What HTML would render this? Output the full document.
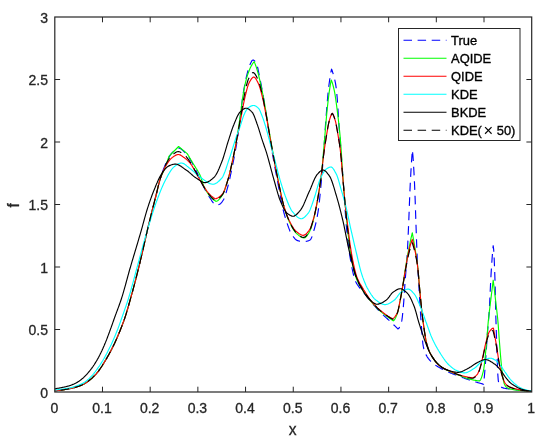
<!DOCTYPE html>
<html lang="en"><head><meta charset="utf-8"><title>Density estimates</title>
<style>
html,body{margin:0;padding:0;background:#fff;}
body{width:550px;height:448px;overflow:hidden;font-family:"Liberation Sans",Arial,Helvetica,sans-serif;}
svg{display:block}
.t{stroke:#262626;stroke-width:0.3px}
.lg{fill:#000;stroke:#000;stroke-width:0.35px}
</style></head><body>
<svg width="550" height="448" viewBox="0 0 550 448" font-family="'Liberation Sans', Arial, Helvetica, sans-serif" font-size="14" fill="#262626">
<defs><clipPath id="cp"><rect x="54.8" y="17.0" width="476.90000000000003" height="375.0"/></clipPath></defs>
<rect width="550" height="448" fill="#fff"/>
<rect x="54.8" y="17.0" width="476.90000000000003" height="375.0" fill="#fff" stroke="none"/>
<g clip-path="url(#cp)" fill="none" stroke-linejoin="round"><path d="M54.5 390.8 L55.0 390.8 L55.5 390.7 L56.0 390.7 L56.5 390.6 L57.0 390.6 L57.5 390.5 L58.0 390.5 L58.5 390.4 L59.0 390.3 L59.5 390.3 L60.0 390.2 L60.5 390.2 L61.0 390.1 L61.5 390.0 L62.0 390.0 L62.5 389.9 L63.0 389.8 L63.5 389.8 L64.0 389.7 L64.5 389.6 L65.0 389.5 L65.5 389.4 L66.0 389.4 L66.5 389.3 L67.0 389.2 L67.5 389.1 L68.0 389.0 L68.5 388.9 L69.0 388.8 L69.5 388.7 L70.0 388.6 L70.5 388.5 L71.0 388.4 L71.5 388.3 L72.0 388.2 L72.5 388.1 L73.0 387.9 L73.5 387.8 L74.0 387.7 L74.5 387.6 L75.0 387.4 L75.5 387.3 L76.0 387.1 L76.5 387.0 L77.0 386.8 L77.5 386.7 L78.0 386.5 L78.5 386.4 L79.0 386.2 L79.5 386.0 L80.0 385.8 L80.5 385.6 L81.0 385.4 L81.5 385.2 L82.0 385.0 L82.5 384.8 L83.0 384.5 L83.5 384.3 L84.0 384.0 L84.5 383.8 L85.0 383.5 L85.5 383.1 L86.0 382.8 L86.5 382.5 L87.0 382.1 L87.5 381.8 L88.0 381.4 L88.5 381.0 L89.0 380.6 L89.5 380.2 L90.0 379.8 L90.5 379.4 L91.0 379.0 L91.5 378.6 L92.0 378.1 L92.5 377.7 L93.0 377.2 L93.5 376.7 L94.0 376.2 L94.5 375.7 L95.0 375.2 L95.5 374.6 L96.0 374.1 L96.5 373.5 L97.0 372.9 L97.5 372.3 L98.0 371.7 L98.5 371.1 L99.0 370.4 L99.5 369.7 L100.0 369.0 L100.5 368.3 L101.0 367.5 L101.5 366.7 L102.0 366.0 L102.5 365.2 L103.0 364.4 L103.5 363.6 L104.0 362.8 L104.5 361.9 L105.0 361.1 L105.5 360.3 L106.0 359.5 L106.5 358.6 L107.0 357.8 L107.5 356.9 L108.0 356.0 L108.5 355.1 L109.0 354.2 L109.5 353.3 L110.0 352.4 L110.5 351.4 L111.0 350.5 L111.5 349.5 L112.0 348.6 L112.5 347.6 L113.0 346.6 L113.5 345.6 L114.0 344.5 L114.5 343.5 L115.0 342.4 L115.5 341.3 L116.0 340.2 L116.5 339.1 L117.0 338.0 L117.5 336.8 L118.0 335.6 L118.5 334.4 L119.0 333.2 L119.5 332.0 L120.0 330.8 L120.5 329.5 L121.0 328.2 L121.5 327.0 L122.0 325.7 L122.5 324.4 L123.0 323.0 L123.5 321.7 L124.0 320.3 L124.5 318.9 L125.0 317.4 L125.5 315.9 L126.0 314.3 L126.5 312.7 L127.0 311.0 L127.5 309.3 L128.0 307.6 L128.5 305.8 L129.0 304.0 L129.5 302.3 L130.0 300.5 L130.5 298.7 L131.0 297.0 L131.5 295.2 L132.0 293.4 L132.5 291.6 L133.0 289.7 L133.5 287.9 L134.0 286.0 L134.5 284.1 L135.0 282.2 L135.5 280.3 L136.0 278.4 L136.5 276.4 L137.0 274.4 L137.5 272.4 L138.0 270.4 L138.5 268.4 L139.0 266.4 L139.5 264.3 L140.0 262.3 L140.5 260.2 L141.0 258.1 L141.5 255.9 L142.0 253.8 L142.5 251.6 L143.0 249.5 L143.5 247.3 L144.0 245.1 L144.5 242.9 L145.0 240.7 L145.5 238.5 L146.0 236.2 L146.5 234.0 L147.0 231.8 L147.5 229.6 L148.0 227.5 L148.5 225.4 L149.0 223.4 L149.5 221.3 L150.0 219.3 L150.5 217.2 L151.0 215.2 L151.5 213.2 L152.0 211.2 L152.5 209.2 L153.0 207.2 L153.5 205.3 L154.0 203.3 L154.5 201.4 L155.0 199.4 L155.5 197.5 L156.0 195.5 L156.5 193.5 L157.0 191.4 L157.5 189.4 L158.0 187.3 L158.5 185.3 L159.0 183.3 L159.5 181.4 L160.0 179.7 L160.5 178.0 L161.0 176.5 L161.5 174.9 L162.0 173.4 L162.5 172.0 L163.0 170.5 L163.5 169.2 L164.0 167.9 L164.5 166.6 L165.0 165.4 L165.5 164.2 L166.0 163.1 L166.5 162.1 L167.0 161.1 L167.5 160.1 L168.0 159.1 L168.5 158.2 L169.0 157.3 L169.5 156.4 L170.0 155.6 L170.5 154.8 L171.0 154.1 L171.5 153.4 L172.0 152.8 L172.5 152.3 L173.0 151.8 L173.5 151.2 L174.0 150.7 L174.5 150.2 L175.0 149.7 L175.5 149.3 L176.0 148.9 L176.5 148.6 L177.0 148.3 L177.5 148.1 L178.0 148.0 L178.5 148.0 L179.0 148.1 L179.5 148.2 L180.0 148.4 L180.5 148.6 L181.0 148.9 L181.5 149.3 L182.0 149.7 L182.5 150.1 L183.0 150.5 L183.5 151.0 L184.0 151.5 L184.5 152.0 L185.0 152.5 L185.5 153.0 L186.0 153.5 L186.5 154.0 L187.0 154.6 L187.5 155.2 L188.0 155.9 L188.5 156.6 L189.0 157.4 L189.5 158.2 L190.0 159.0 L190.5 159.9 L191.0 160.7 L191.5 161.6 L192.0 162.6 L192.5 163.5 L193.0 164.4 L193.5 165.3 L194.0 166.3 L194.5 167.2 L195.0 168.1 L195.5 169.1 L196.0 170.2 L196.5 171.2 L197.0 172.3 L197.5 173.4 L198.0 174.5 L198.5 175.7 L199.0 176.8 L199.5 178.0 L200.0 179.1 L200.5 180.2 L201.0 181.3 L201.5 182.4 L202.0 183.5 L202.5 184.5 L203.0 185.5 L203.5 186.5 L204.0 187.5 L204.5 188.4 L205.0 189.4 L205.5 190.4 L206.0 191.3 L206.5 192.2 L207.0 193.1 L207.5 194.0 L208.0 194.8 L208.5 195.6 L209.0 196.4 L209.5 197.1 L210.0 197.9 L210.5 198.7 L211.0 199.5 L211.5 200.3 L212.0 201.1 L212.5 201.8 L213.0 202.5 L213.5 203.2 L214.0 203.8 L214.5 204.3 L215.0 204.8 L215.5 205.1 L216.0 205.3 L216.5 205.3 L217.0 205.3 L217.5 205.1 L218.0 205.0 L218.5 204.8 L219.0 204.5 L219.5 204.3 L220.0 204.0 L220.5 203.7 L221.0 203.2 L221.5 202.7 L222.0 202.0 L222.5 201.3 L223.0 200.5 L223.5 199.7 L224.0 198.7 L224.5 197.6 L225.0 196.2 L225.5 194.8 L226.0 193.1 L226.5 191.4 L227.0 189.6 L227.5 187.8 L228.0 186.0 L228.5 184.1 L229.0 182.0 L229.5 179.8 L230.0 177.6 L230.5 175.2 L231.0 172.8 L231.5 170.5 L232.0 168.1 L232.5 165.7 L233.0 163.2 L233.5 160.7 L234.0 158.1 L234.5 155.4 L235.0 152.8 L235.5 150.1 L236.0 147.4 L236.5 144.6 L237.0 141.6 L237.5 138.3 L238.0 134.8 L238.5 130.9 L239.0 126.9 L239.5 122.8 L240.0 118.7 L240.5 114.7 L241.0 110.6 L241.5 106.4 L242.0 102.3 L242.5 98.4 L243.0 94.8 L243.5 91.7 L244.0 88.8 L244.5 86.0 L245.0 83.4 L245.5 80.9 L246.0 78.6 L246.5 76.4 L247.0 74.3 L247.5 72.3 L248.0 70.4 L248.5 68.6 L249.0 67.0 L249.5 65.7 L250.0 64.6 L250.5 63.5 L251.0 62.4 L251.5 61.4 L252.0 60.7 L252.5 60.2 L253.0 60.0 L253.5 60.1 L254.0 60.4 L254.5 60.8 L255.0 61.4 L255.5 62.1 L256.0 62.8 L256.5 63.7 L257.0 65.0 L257.5 66.8 L258.0 69.0 L258.5 71.5 L259.0 74.0 L259.5 76.5 L260.0 78.9 L260.5 81.4 L261.0 83.9 L261.5 86.6 L262.0 89.3 L262.5 92.0 L263.0 94.8 L263.5 97.7 L264.0 100.6 L264.5 103.6 L265.0 106.7 L265.5 109.9 L266.0 113.1 L266.5 116.4 L267.0 119.6 L267.5 122.9 L268.0 126.0 L268.5 129.1 L269.0 132.1 L269.5 135.1 L270.0 138.2 L270.5 141.2 L271.0 144.4 L271.5 147.5 L272.0 150.7 L272.5 153.8 L273.0 156.8 L273.5 159.7 L274.0 162.5 L274.5 165.2 L275.0 167.9 L275.5 170.6 L276.0 173.2 L276.5 175.8 L277.0 178.4 L277.5 181.0 L278.0 183.7 L278.5 186.4 L279.0 189.2 L279.5 191.9 L280.0 194.7 L280.5 197.3 L281.0 200.0 L281.5 202.4 L282.0 204.8 L282.5 207.0 L283.0 209.1 L283.5 211.1 L284.0 213.0 L284.5 214.9 L285.0 216.6 L285.5 218.3 L286.0 220.0 L286.5 221.5 L287.0 223.0 L287.5 224.4 L288.0 225.9 L288.5 227.3 L289.0 228.6 L289.5 229.9 L290.0 231.2 L290.5 232.3 L291.0 233.3 L291.5 234.2 L292.0 235.0 L292.5 235.7 L293.0 236.4 L293.5 237.0 L294.0 237.6 L294.5 238.2 L295.0 238.8 L295.5 239.3 L296.0 239.7 L296.5 240.1 L297.0 240.4 L297.5 240.6 L298.0 240.8 L298.5 240.9 L299.0 241.0 L299.5 241.1 L300.0 241.2 L300.5 241.3 L301.0 241.4 L301.5 241.4 L302.0 241.5 L302.5 241.5 L303.0 241.6 L303.5 241.6 L304.0 241.6 L304.5 241.6 L305.0 241.6 L305.5 241.5 L306.0 241.4 L306.5 241.3 L307.0 241.2 L307.5 241.0 L308.0 240.9 L308.5 240.7 L309.0 240.5 L309.5 240.2 L310.0 240.0 L310.5 239.6 L311.0 238.8 L311.5 237.8 L312.0 236.5 L312.5 235.0 L313.0 233.4 L313.5 231.7 L314.0 230.0 L314.5 228.3 L315.0 226.5 L315.5 224.6 L316.0 222.5 L316.5 220.2 L317.0 217.7 L317.5 215.0 L318.0 212.1 L318.5 208.8 L319.0 204.9 L319.5 200.4 L320.0 195.5 L320.5 190.3 L321.0 185.0 L321.5 179.6 L322.0 173.8 L322.5 167.8 L323.0 161.5 L323.5 155.0 L324.0 147.9 L324.5 140.3 L325.0 132.5 L325.5 124.9 L326.0 118.0 L326.5 111.5 L327.0 105.1 L327.5 99.1 L328.0 93.6 L328.5 88.8 L329.0 84.8 L329.5 81.0 L330.0 77.4 L330.5 74.3 L331.0 71.6 L331.5 69.5 L331.6 69.1 L332.1 70.5 L332.6 72.1 L333.1 73.7 L333.6 75.5 L334.1 77.3 L334.6 79.2 L335.1 81.4 L335.6 83.9 L336.1 87.3 L336.6 91.7 L337.1 96.9 L337.6 103.3 L338.1 111.2 L338.6 119.5 L339.1 126.8 L339.6 133.4 L340.1 139.7 L340.6 146.0 L341.1 152.4 L341.6 159.0 L342.1 165.7 L342.6 172.5 L343.1 179.3 L343.6 186.3 L344.1 193.5 L344.6 201.2 L345.1 209.3 L345.6 216.8 L346.1 223.2 L346.6 228.7 L347.1 233.8 L347.6 238.6 L348.1 242.9 L348.6 247.0 L349.1 250.7 L349.6 254.2 L350.1 257.5 L350.6 260.5 L351.1 263.4 L351.6 266.0 L352.1 268.5 L352.6 270.8 L353.1 273.1 L353.6 275.3 L354.1 277.2 L354.6 278.9 L355.1 280.3 L355.6 281.4 L356.1 282.4 L356.6 283.4 L357.1 284.2 L357.6 285.0 L358.1 285.7 L358.6 286.4 L359.1 287.1 L359.6 287.7 L360.1 288.4 L360.6 289.1 L361.1 289.7 L361.6 290.4 L362.1 291.0 L362.6 291.6 L363.1 292.1 L363.6 292.7 L364.1 293.3 L364.6 293.9 L365.1 294.4 L365.6 295.0 L366.1 295.6 L366.6 296.2 L367.1 296.9 L367.6 297.5 L368.1 298.1 L368.6 298.7 L369.1 299.3 L369.6 300.0 L370.1 300.6 L370.6 301.2 L371.1 301.8 L371.6 302.4 L372.1 303.0 L372.6 303.6 L373.1 304.2 L373.6 304.8 L374.1 305.3 L374.6 305.9 L375.1 306.5 L375.6 307.1 L376.1 307.7 L376.6 308.2 L377.1 308.8 L377.6 309.3 L378.1 309.9 L378.6 310.4 L379.1 311.0 L379.6 311.5 L380.1 312.0 L380.6 312.5 L381.1 313.0 L381.6 313.5 L382.1 314.0 L382.6 314.4 L383.1 314.9 L383.6 315.4 L384.1 315.8 L384.6 316.3 L385.1 316.7 L385.6 317.2 L386.1 317.6 L386.6 318.1 L387.1 318.5 L387.6 319.0 L388.1 319.5 L388.6 319.9 L389.1 320.4 L389.6 320.9 L390.1 321.4 L390.6 321.8 L391.1 322.3 L391.6 322.8 L392.1 323.3 L392.6 323.8 L393.1 324.3 L393.6 324.8 L394.1 325.2 L394.6 325.7 L395.1 326.2 L395.6 326.7 L396.1 327.2 L396.6 327.7 L397.1 328.2 L397.6 328.7 L397.8 328.9 L398.3 328.7 L398.8 328.3 L399.3 327.6 L399.8 326.7 L400.3 325.5 L400.8 324.2 L401.3 322.6 L401.8 320.7 L402.3 317.1 L402.8 312.3 L403.3 307.1 L403.8 301.1 L404.3 293.7 L404.8 285.9 L405.3 278.8 L405.8 272.8 L406.3 267.1 L406.8 260.9 L407.3 253.3 L407.8 243.4 L408.3 232.0 L408.8 220.2 L409.3 207.0 L409.8 193.9 L410.3 183.0 L410.8 173.7 L411.3 165.1 L411.8 157.5 L412.3 151.2 L412.4 150.1 L412.9 155.3 L413.4 162.4 L413.9 171.1 L414.4 180.9 L414.9 192.2 L415.4 206.9 L415.9 222.2 L416.4 236.5 L416.9 250.5 L417.4 262.0 L417.9 270.9 L418.4 278.6 L418.9 286.7 L419.4 295.2 L419.9 303.6 L420.4 311.5 L420.9 318.9 L421.4 325.7 L421.9 332.3 L422.4 338.8 L422.9 344.0 L423.4 346.9 L423.9 349.0 L424.4 350.7 L424.9 352.2 L425.4 353.4 L425.9 354.5 L426.4 355.4 L426.9 356.3 L427.4 357.1 L427.9 357.8 L428.4 358.6 L428.9 359.2 L429.4 359.8 L429.9 360.4 L430.4 360.9 L430.9 361.4 L431.4 361.9 L431.9 362.4 L432.4 362.8 L432.9 363.2 L433.4 363.6 L433.9 364.0 L434.4 364.4 L434.9 364.8 L435.4 365.1 L435.9 365.5 L436.4 365.8 L436.9 366.1 L437.4 366.4 L437.9 366.7 L438.4 367.0 L438.9 367.3 L439.4 367.6 L439.9 367.8 L440.4 368.1 L440.9 368.4 L441.4 368.7 L441.9 368.9 L442.4 369.2 L442.9 369.4 L443.4 369.7 L443.9 369.9 L444.4 370.2 L444.9 370.4 L445.4 370.7 L445.9 370.9 L446.4 371.1 L446.9 371.4 L447.4 371.6 L447.9 371.8 L448.4 372.0 L448.9 372.2 L449.4 372.5 L449.9 372.7 L450.4 372.9 L450.9 373.1 L451.4 373.3 L451.9 373.5 L452.4 373.7 L452.9 373.9 L453.4 374.1 L453.9 374.3 L454.4 374.5 L454.9 374.7 L455.4 374.8 L455.9 375.0 L456.4 375.2 L456.9 375.4 L457.4 375.6 L457.9 375.8 L458.4 375.9 L458.9 376.1 L459.4 376.3 L459.9 376.5 L460.4 376.7 L460.9 376.9 L461.4 377.1 L461.9 377.2 L462.4 377.4 L462.9 377.6 L463.4 377.8 L463.9 378.0 L464.4 378.2 L464.9 378.4 L465.4 378.6 L465.9 378.7 L466.4 378.9 L466.9 379.1 L467.4 379.3 L467.9 379.5 L468.4 379.7 L468.9 379.8 L469.4 380.0 L469.9 380.2 L470.4 380.3 L470.9 380.5 L471.4 380.7 L471.9 380.8 L472.4 381.0 L472.9 381.1 L473.4 381.3 L473.9 381.4 L474.4 381.6 L474.9 381.7 L475.4 381.9 L475.9 382.0 L476.4 382.2 L476.9 382.3 L477.4 382.4 L477.9 382.6 L478.4 382.7 L478.9 382.9 L479.4 383.0 L479.9 383.2 L480.4 383.3 L480.9 383.5 L481.4 383.6 L481.9 383.8 L482.4 383.9 L482.9 384.1 L483.4 384.2 L483.6 384.3 L484.1 379.3 L484.6 373.7 L485.1 367.7 L485.6 361.1 L486.1 353.5 L486.6 345.6 L487.1 337.9 L487.6 331.2 L488.1 325.3 L488.6 319.5 L489.1 313.0 L489.6 304.6 L490.1 293.8 L490.6 282.6 L491.1 273.4 L491.6 265.6 L492.1 258.4 L492.6 252.0 L493.1 246.6 L493.2 245.7 L493.7 249.9 L494.2 259.2 L494.7 271.7 L495.2 287.2 L495.7 311.7 L496.2 329.1 L496.7 343.1 L497.2 359.4 L497.7 372.7 L498.2 379.8 L498.7 383.1 L499.2 384.8 L499.7 385.7 L500.2 386.3 L500.7 386.8 L501.2 387.1 L501.7 387.4 L502.2 387.6 L502.7 387.8 L503.2 387.9 L503.7 388.1 L504.2 388.2 L504.7 388.3 L505.2 388.4 L505.7 388.5 L506.2 388.6 L506.7 388.6 L507.2 388.7 L507.7 388.8 L508.2 388.9 L508.7 388.9 L509.2 389.0 L509.7 389.1 L510.2 389.1 L510.7 389.2 L511.2 389.3 L511.7 389.3 L512.2 389.4 L512.7 389.4 L513.2 389.5 L513.7 389.5 L514.2 389.6 L514.7 389.6 L515.2 389.7 L515.7 389.8 L516.2 389.8 L516.7 389.9 L517.2 389.9 L517.7 390.0 L518.2 390.0 L518.7 390.1 L519.2 390.1 L519.7 390.2 L520.2 390.3 L520.7 390.3 L521.2 390.4 L521.7 390.4 L522.2 390.5 L522.7 390.5 L523.2 390.6 L523.7 390.6 L524.2 390.7 L524.7 390.8 L525.2 390.8 L525.7 390.9 L526.2 390.9 L526.7 391.0 L527.2 391.0 L527.7 391.1 L528.2 391.1 L528.7 391.2 L529.2 391.3 L529.7 391.3 L530.2 391.4 L530.7 391.4 L531.2 391.5 L531.5 391.5" stroke="#0000ff" stroke-width="1.15" stroke-dasharray="8.7 5.8" stroke-dashoffset="0"/>
<path d="M54.5 390.8 L55.0 390.8 L55.5 390.7 L56.0 390.7 L56.5 390.6 L57.0 390.6 L57.5 390.5 L58.0 390.5 L58.5 390.4 L59.0 390.3 L59.5 390.3 L60.0 390.2 L60.5 390.2 L61.0 390.1 L61.5 390.0 L62.0 390.0 L62.5 389.9 L63.0 389.8 L63.5 389.8 L64.0 389.7 L64.5 389.6 L65.0 389.5 L65.5 389.4 L66.0 389.4 L66.5 389.3 L67.0 389.2 L67.5 389.1 L68.0 389.0 L68.5 388.9 L69.0 388.8 L69.5 388.7 L70.0 388.6 L70.5 388.5 L71.0 388.4 L71.5 388.3 L72.0 388.2 L72.5 388.1 L73.0 387.9 L73.5 387.8 L74.0 387.7 L74.5 387.6 L75.0 387.4 L75.5 387.3 L76.0 387.1 L76.5 387.0 L77.0 386.8 L77.5 386.7 L78.0 386.5 L78.5 386.4 L79.0 386.2 L79.5 386.0 L80.0 385.8 L80.5 385.6 L81.0 385.4 L81.5 385.2 L82.0 385.0 L82.5 384.8 L83.0 384.5 L83.5 384.3 L84.0 384.0 L84.5 383.8 L85.0 383.5 L85.5 383.1 L86.0 382.8 L86.5 382.5 L87.0 382.1 L87.5 381.8 L88.0 381.4 L88.5 381.0 L89.0 380.6 L89.5 380.2 L90.0 379.8 L90.5 379.4 L91.0 379.0 L91.5 378.6 L92.0 378.1 L92.5 377.7 L93.0 377.2 L93.5 376.7 L94.0 376.2 L94.5 375.7 L95.0 375.2 L95.5 374.6 L96.0 374.1 L96.5 373.5 L97.0 372.9 L97.5 372.3 L98.0 371.7 L98.5 371.1 L99.0 370.4 L99.5 369.7 L100.0 369.0 L100.5 368.3 L101.0 367.5 L101.5 366.7 L102.0 366.0 L102.5 365.2 L103.0 364.4 L103.5 363.6 L104.0 362.8 L104.5 361.9 L105.0 361.1 L105.5 360.3 L106.0 359.5 L106.5 358.6 L107.0 357.8 L107.5 356.9 L108.0 356.0 L108.5 355.1 L109.0 354.2 L109.5 353.3 L110.0 352.4 L110.5 351.4 L111.0 350.5 L111.5 349.5 L112.0 348.6 L112.5 347.6 L113.0 346.6 L113.5 345.6 L114.0 344.5 L114.5 343.5 L115.0 342.4 L115.5 341.3 L116.0 340.2 L116.5 339.1 L117.0 338.0 L117.5 336.8 L118.0 335.6 L118.5 334.4 L119.0 333.2 L119.5 332.0 L120.0 330.8 L120.5 329.5 L121.0 328.2 L121.5 327.0 L122.0 325.7 L122.5 324.4 L123.0 323.0 L123.5 321.7 L124.0 320.3 L124.5 318.9 L125.0 317.4 L125.5 315.9 L126.0 314.3 L126.5 312.7 L127.0 311.0 L127.5 309.3 L128.0 307.6 L128.5 305.8 L129.0 304.0 L129.5 302.3 L130.0 300.5 L130.5 298.7 L131.0 297.0 L131.5 295.2 L132.0 293.4 L132.5 291.6 L133.0 289.7 L133.5 287.9 L134.0 286.0 L134.5 284.1 L135.0 282.2 L135.5 280.3 L136.0 278.4 L136.5 276.4 L137.0 274.4 L137.5 272.4 L138.0 270.4 L138.5 268.4 L139.0 266.4 L139.5 264.3 L140.0 262.3 L140.5 260.2 L141.0 258.1 L141.5 255.9 L142.0 253.8 L142.5 251.6 L143.0 249.5 L143.5 247.3 L144.0 245.1 L144.5 242.9 L145.0 240.7 L145.5 238.5 L146.0 236.2 L146.5 234.0 L147.0 231.8 L147.5 229.6 L148.0 227.5 L148.5 225.4 L149.0 223.4 L149.5 221.3 L150.0 219.3 L150.5 217.2 L151.0 215.2 L151.5 213.2 L152.0 211.2 L152.5 209.2 L153.0 207.2 L153.5 205.3 L154.0 203.3 L154.5 201.4 L155.0 199.4 L155.5 197.5 L156.0 195.5 L156.5 193.5 L157.0 191.4 L157.5 189.3 L158.0 187.2 L158.5 185.1 L159.0 183.1 L159.5 181.3 L160.0 179.6 L160.5 178.1 L161.0 176.8 L161.5 175.6 L162.0 174.5 L162.5 173.4 L163.0 172.3 L163.5 171.2 L164.0 170.0 L164.5 168.7 L165.0 167.4 L165.5 166.1 L166.0 164.8 L166.5 163.4 L167.0 162.1 L167.5 160.7 L168.0 159.3 L168.5 157.8 L169.0 156.4 L169.1 156.1 L178.6 146.5 L187.2 153.6 L187.7 154.4 L188.2 155.3 L188.7 156.1 L189.2 156.9 L189.7 157.8 L190.2 158.6 L190.7 159.5 L191.2 160.3 L191.7 161.1 L192.2 162.0 L192.7 162.8 L193.2 163.7 L193.7 164.5 L194.2 165.3 L194.7 166.1 L195.2 166.9 L195.7 167.7 L196.2 168.5 L196.7 169.2 L197.2 170.0 L197.7 170.8 L198.2 171.7 L198.7 172.5 L199.2 173.5 L199.7 174.5 L200.2 175.6 L200.7 176.8 L201.2 178.3 L201.7 179.9 L202.2 181.5 L202.7 183.0 L203.2 184.5 L203.7 185.8 L204.2 186.9 L204.7 188.0 L205.2 188.9 L205.7 189.9 L206.2 190.8 L206.7 191.7 L207.2 192.5 L207.7 193.2 L208.2 194.0 L208.7 194.6 L209.2 195.3 L209.7 195.8 L210.2 196.4 L210.7 197.0 L211.2 197.5 L211.7 198.0 L212.2 198.5 L212.7 199.0 L213.2 199.4 L213.7 199.8 L214.2 200.2 L214.7 200.5 L215.2 200.9 L215.7 201.1 L216.1 201.3 L216.6 201.2 L217.1 201.0 L217.6 200.7 L218.1 200.4 L218.6 199.9 L219.1 199.4 L219.6 198.9 L220.1 198.2 L220.6 197.6 L221.1 196.9 L221.6 196.2 L222.1 195.4 L222.6 194.7 L223.1 193.8 L223.6 192.7 L224.1 191.6 L224.6 190.2 L225.1 188.8 L225.6 187.3 L226.1 185.8 L226.6 184.2 L227.1 182.5 L227.6 180.9 L228.1 179.2 L228.6 177.4 L229.1 175.5 L229.6 173.6 L230.1 171.5 L230.6 169.4 L231.1 167.2 L231.6 165.0 L232.1 162.7 L232.6 160.4 L233.1 158.0 L233.6 155.6 L234.1 153.2 L234.6 150.6 L235.1 148.0 L235.6 145.3 L236.1 142.5 L236.6 139.6 L237.1 136.6 L237.6 133.6 L238.1 130.4 L238.6 127.1 L239.1 123.8 L239.6 120.4 L240.1 117.0 L240.6 113.4 L241.1 109.6 L241.6 105.6 L242.1 101.7 L242.6 98.0 L243.1 94.8 L243.6 92.0 L244.1 89.3 L244.6 86.8 L245.1 84.4 L245.6 82.1 L246.1 80.1 L246.6 78.2 L247.1 76.4 L247.6 74.8 L248.1 73.4 L248.6 72.0 L249.1 70.7 L249.6 69.4 L250.1 68.3 L250.6 67.3 L251.1 66.3 L251.6 65.4 L252.1 64.5 L252.6 63.7 L253.1 63.0 L253.6 62.4 L254.1 61.8 L254.2 61.7 L254.7 62.9 L255.2 64.1 L255.7 65.5 L256.2 66.9 L256.7 68.5 L257.2 70.1 L257.7 71.8 L258.2 73.7 L258.7 75.7 L259.2 77.8 L259.7 79.9 L260.2 82.1 L260.7 84.3 L261.2 86.6 L261.7 89.0 L262.2 91.4 L262.7 93.9 L263.2 96.4 L263.7 99.0 L264.2 101.7 L264.7 104.4 L265.2 107.3 L265.7 110.3 L266.2 113.4 L266.7 116.5 L267.2 119.6 L267.7 122.7 L268.2 125.7 L268.7 128.6 L269.2 131.5 L269.7 134.3 L270.2 137.2 L270.7 140.0 L271.2 142.8 L271.7 145.7 L272.2 148.5 L272.7 151.4 L273.2 154.2 L273.7 156.9 L274.2 159.6 L274.7 162.3 L275.2 165.0 L275.7 167.7 L276.2 170.3 L276.7 173.0 L277.2 175.5 L277.7 178.0 L278.2 180.5 L278.7 182.9 L279.2 185.4 L279.7 187.9 L280.2 190.3 L280.7 192.7 L281.2 195.1 L281.7 197.4 L282.2 199.7 L282.7 201.8 L283.2 203.8 L283.7 205.7 L284.2 207.5 L284.7 209.1 L285.2 210.7 L285.7 212.3 L286.2 213.7 L286.7 215.2 L287.2 216.5 L287.7 217.8 L288.2 219.1 L288.7 220.3 L289.2 221.4 L289.7 222.5 L290.2 223.5 L290.7 224.5 L291.2 225.5 L291.7 226.5 L292.2 227.4 L292.7 228.3 L293.2 229.2 L293.7 230.0 L294.2 230.7 L294.7 231.4 L295.2 232.1 L295.7 232.6 L296.2 233.1 L296.7 233.5 L297.2 234.0 L297.7 234.4 L298.2 234.9 L298.7 235.3 L299.2 235.7 L299.7 236.0 L300.2 236.4 L300.7 236.7 L301.2 237.0 L301.7 237.3 L302.2 237.5 L302.7 237.7 L303.2 237.8 L303.7 237.9 L304.2 237.9 L304.7 237.8 L305.2 237.6 L305.7 237.2 L306.2 236.7 L306.7 236.1 L307.2 235.5 L307.7 234.7 L308.2 233.9 L308.7 233.1 L309.2 232.2 L309.7 231.3 L310.2 230.3 L310.7 229.0 L311.2 227.6 L311.7 226.0 L312.2 224.3 L312.7 222.5 L313.2 220.6 L313.7 218.6 L314.2 216.6 L314.7 214.5 L315.2 212.3 L315.7 209.9 L316.2 207.3 L316.7 204.6 L317.2 201.9 L317.7 199.0 L318.2 196.1 L318.7 193.2 L319.2 190.2 L319.7 187.0 L320.2 183.7 L320.7 180.0 L321.2 176.1 L321.7 171.6 L322.2 166.5 L322.7 161.0 L323.2 155.2 L323.7 149.3 L324.2 143.4 L324.7 137.7 L325.2 131.8 L325.7 125.8 L326.2 119.9 L326.7 114.3 L327.2 109.2 L327.7 104.5 L328.2 100.1 L328.7 95.9 L329.2 92.2 L329.7 88.8 L330.2 85.6 L330.7 82.7 L331.2 80.1 L331.7 81.1 L332.2 82.5 L332.7 84.1 L333.2 86.0 L333.7 88.0 L334.2 90.2 L334.7 92.7 L335.2 95.6 L335.7 99.0 L336.2 102.6 L336.7 106.3 L337.2 110.2 L337.7 114.1 L338.2 118.2 L338.7 122.6 L339.2 127.2 L339.7 132.1 L340.2 137.4 L340.7 143.2 L341.2 150.3 L341.7 158.4 L342.2 166.8 L342.7 174.7 L343.2 181.6 L343.7 187.9 L344.2 193.9 L344.7 199.5 L345.2 205.0 L345.7 210.3 L346.2 215.5 L346.7 220.4 L347.2 225.2 L347.7 229.8 L348.2 234.3 L348.7 238.7 L349.2 242.7 L349.7 246.5 L350.2 250.0 L350.7 253.4 L351.2 256.5 L351.7 259.4 L352.2 262.0 L352.7 264.5 L353.2 266.9 L353.7 269.2 L354.2 271.3 L354.7 273.3 L355.2 275.1 L355.7 276.7 L356.2 278.0 L356.7 279.3 L357.2 280.4 L357.7 281.5 L358.2 282.5 L358.7 283.5 L359.2 284.4 L359.7 285.3 L360.2 286.1 L360.7 286.9 L361.2 287.7 L361.7 288.5 L362.2 289.3 L362.7 290.0 L363.2 290.8 L363.7 291.6 L364.2 292.3 L364.7 293.1 L365.2 293.8 L365.7 294.5 L366.2 295.2 L366.7 295.9 L367.2 296.6 L367.7 297.3 L368.2 297.9 L368.7 298.6 L369.2 299.2 L369.7 299.8 L370.2 300.4 L370.7 301.0 L371.2 301.6 L371.7 302.2 L372.2 302.8 L372.7 303.4 L373.2 304.0 L373.7 304.5 L374.2 305.1 L374.7 305.6 L375.2 306.2 L375.7 306.7 L376.2 307.2 L376.7 307.8 L377.2 308.3 L377.7 308.8 L378.2 309.2 L378.7 309.7 L379.2 310.2 L379.7 310.6 L380.2 311.1 L380.7 311.5 L381.2 311.9 L381.7 312.4 L382.2 312.8 L382.7 313.1 L383.2 313.5 L383.7 313.9 L384.2 314.3 L384.7 314.6 L385.2 315.0 L385.7 315.4 L386.2 315.7 L386.7 316.1 L387.2 316.5 L387.7 316.8 L388.2 317.2 L388.7 317.6 L389.2 317.9 L389.7 318.3 L390.2 318.7 L390.7 319.0 L391.2 319.4 L391.7 319.7 L392.2 320.1 L392.7 320.4 L393.2 320.8 L393.7 320.6 L394.2 320.1 L394.7 319.4 L395.2 318.5 L395.7 317.5 L396.2 316.3 L396.7 315.1 L397.2 313.7 L397.7 312.3 L398.2 310.4 L398.7 308.0 L399.2 305.5 L399.7 302.8 L400.2 300.2 L400.7 297.6 L401.2 295.0 L401.7 292.2 L402.2 289.4 L402.7 286.4 L403.2 283.3 L403.7 279.9 L404.2 276.6 L404.7 273.2 L405.2 269.9 L405.7 266.8 L406.2 263.7 L406.7 260.7 L407.2 257.7 L407.7 254.9 L408.2 252.1 L408.7 249.5 L409.2 246.9 L409.7 244.5 L410.2 242.0 L410.7 239.7 L411.2 237.4 L411.7 235.3 L412.2 233.2 L412.3 232.8 L412.8 235.5 L413.3 238.3 L413.8 241.2 L414.3 244.1 L414.8 247.1 L415.3 250.2 L415.8 253.2 L416.3 256.3 L416.8 259.5 L417.3 263.1 L417.8 267.3 L418.3 272.6 L418.8 278.7 L419.3 284.9 L419.8 290.9 L420.3 296.1 L420.8 301.2 L421.3 306.2 L421.8 311.0 L422.3 315.4 L422.8 319.5 L423.3 323.2 L423.8 326.8 L424.3 330.3 L424.8 333.6 L425.3 336.7 L425.8 339.5 L426.3 342.0 L426.8 344.1 L427.3 345.8 L427.8 347.4 L428.3 348.8 L428.8 350.1 L429.3 351.3 L429.8 352.4 L430.3 353.4 L430.8 354.4 L431.3 355.3 L431.8 356.2 L432.3 357.0 L432.8 357.7 L433.3 358.5 L433.8 359.2 L434.3 359.9 L434.8 360.6 L435.3 361.2 L435.8 361.9 L436.3 362.5 L436.8 363.0 L437.3 363.6 L437.8 364.1 L438.3 364.6 L438.8 365.0 L439.3 365.5 L439.8 365.9 L440.3 366.3 L440.8 366.6 L441.3 367.0 L441.8 367.3 L442.3 367.6 L442.8 367.9 L443.3 368.2 L443.8 368.5 L444.3 368.8 L444.8 369.0 L445.3 369.3 L445.8 369.5 L446.3 369.8 L446.8 370.0 L447.3 370.3 L447.8 370.5 L448.3 370.7 L448.8 371.0 L449.3 371.2 L449.8 371.4 L450.3 371.6 L450.8 371.9 L451.3 372.1 L451.8 372.3 L452.3 372.5 L452.8 372.8 L453.3 373.0 L453.8 373.2 L454.3 373.4 L454.8 373.6 L455.3 373.8 L455.8 374.0 L456.3 374.2 L456.8 374.4 L457.3 374.6 L457.8 374.8 L458.3 375.0 L458.8 375.2 L459.3 375.4 L459.8 375.5 L460.3 375.7 L460.8 375.9 L461.3 376.1 L461.8 376.3 L462.3 376.5 L462.8 376.7 L463.3 376.9 L463.8 377.1 L464.3 377.3 L464.8 377.5 L465.3 377.7 L465.8 377.9 L466.3 378.1 L466.8 378.3 L467.3 378.4 L467.8 378.6 L468.3 378.8 L468.8 378.9 L469.3 379.0 L469.8 379.2 L470.3 379.3 L470.8 379.4 L471.3 379.5 L471.8 379.6 L472.3 379.8 L472.8 379.9 L473.3 380.0 L473.8 380.1 L474.3 380.2 L474.8 380.3 L475.3 380.4 L475.8 380.4 L476.3 380.5 L476.8 380.6 L477.3 380.7 L477.8 380.7 L478.3 380.8 L478.8 380.9 L479.3 380.9 L479.8 380.7 L480.3 380.1 L480.8 379.2 L481.3 378.0 L481.8 376.6 L482.3 375.0 L482.8 373.2 L483.3 371.3 L483.8 368.7 L484.3 365.1 L484.8 360.6 L485.3 355.6 L485.8 350.4 L486.3 345.2 L486.8 339.5 L487.3 333.2 L487.8 326.8 L488.3 321.0 L488.8 316.2 L489.3 311.9 L489.8 307.9 L490.3 303.8 L490.8 299.7 L491.3 295.6 L491.8 291.5 L492.3 287.4 L492.8 283.4 L493.2 280.2 L493.7 284.3 L494.2 288.5 L494.7 292.8 L495.2 297.1 L495.7 301.4 L496.2 305.7 L496.7 309.9 L497.2 314.2 L497.7 318.9 L498.2 324.6 L498.7 331.6 L499.2 338.7 L499.7 345.1 L500.2 351.5 L500.7 357.6 L501.2 363.2 L501.7 368.1 L502.2 372.8 L502.7 376.5 L503.2 379.3 L503.7 381.7 L504.2 383.6 L504.7 384.8 L505.2 385.7 L505.7 386.4 L506.2 387.0 L506.7 387.4 L507.2 387.8 L507.7 388.0 L508.2 388.2 L508.7 388.5 L509.2 388.6 L509.7 388.8 L510.2 389.0 L510.7 389.1 L511.2 389.2 L511.7 389.3 L512.2 389.4 L512.7 389.5 L513.2 389.6 L513.7 389.7 L514.2 389.8 L514.7 389.8 L515.2 389.9 L515.7 390.0 L516.2 390.0 L516.7 390.1 L517.2 390.2 L517.7 390.2 L518.2 390.3 L518.7 390.3 L519.2 390.4 L519.7 390.4 L520.2 390.4 L520.7 390.5 L521.2 390.5 L521.7 390.6 L522.2 390.6 L522.7 390.7 L523.2 390.7 L523.7 390.7 L524.2 390.8 L524.7 390.8 L525.2 390.9 L525.7 390.9 L526.2 391.0 L526.7 391.0 L527.2 391.0 L527.7 391.1 L528.2 391.1 L528.7 391.1 L529.2 391.2 L529.7 391.2 L530.2 391.2 L530.7 391.3 L531.2 391.3 L531.5 391.3" stroke="#00ff00" stroke-width="1.15"/>
<path d="M54.5 390.8 L55.0 390.8 L55.5 390.7 L56.0 390.7 L56.5 390.6 L57.0 390.6 L57.5 390.5 L58.0 390.5 L58.5 390.4 L59.0 390.3 L59.5 390.3 L60.0 390.2 L60.5 390.2 L61.0 390.1 L61.5 390.0 L62.0 390.0 L62.5 389.9 L63.0 389.8 L63.5 389.8 L64.0 389.7 L64.5 389.6 L65.0 389.5 L65.5 389.4 L66.0 389.4 L66.5 389.3 L67.0 389.2 L67.5 389.1 L68.0 389.0 L68.5 388.9 L69.0 388.8 L69.5 388.7 L70.0 388.6 L70.5 388.5 L71.0 388.4 L71.5 388.3 L72.0 388.2 L72.5 388.1 L73.0 387.9 L73.5 387.8 L74.0 387.7 L74.5 387.6 L75.0 387.4 L75.5 387.3 L76.0 387.1 L76.5 387.0 L77.0 386.8 L77.5 386.7 L78.0 386.5 L78.5 386.4 L79.0 386.2 L79.5 386.0 L80.0 385.8 L80.5 385.6 L81.0 385.4 L81.5 385.2 L82.0 385.0 L82.5 384.8 L83.0 384.5 L83.5 384.3 L84.0 384.0 L84.5 383.8 L85.0 383.5 L85.5 383.1 L86.0 382.8 L86.5 382.5 L87.0 382.1 L87.5 381.8 L88.0 381.4 L88.5 381.0 L89.0 380.6 L89.5 380.2 L90.0 379.8 L90.5 379.4 L91.0 379.0 L91.5 378.6 L92.0 378.1 L92.5 377.7 L93.0 377.2 L93.5 376.7 L94.0 376.2 L94.5 375.7 L95.0 375.2 L95.5 374.6 L96.0 374.1 L96.5 373.5 L97.0 372.9 L97.5 372.3 L98.0 371.7 L98.5 371.1 L99.0 370.4 L99.5 369.7 L100.0 369.0 L100.5 368.3 L101.0 367.5 L101.5 366.7 L102.0 366.0 L102.5 365.2 L103.0 364.4 L103.5 363.6 L104.0 362.8 L104.5 361.9 L105.0 361.1 L105.5 360.3 L106.0 359.5 L106.5 358.6 L107.0 357.8 L107.5 356.9 L108.0 356.0 L108.5 355.1 L109.0 354.2 L109.5 353.3 L110.0 352.4 L110.5 351.4 L111.0 350.5 L111.5 349.5 L112.0 348.6 L112.5 347.6 L113.0 346.6 L113.5 345.6 L114.0 344.5 L114.5 343.5 L115.0 342.4 L115.5 341.3 L116.0 340.2 L116.5 339.1 L117.0 338.0 L117.5 336.8 L118.0 335.6 L118.5 334.4 L119.0 333.2 L119.5 332.0 L120.0 330.8 L120.5 329.5 L121.0 328.2 L121.5 327.0 L122.0 325.7 L122.5 324.4 L123.0 323.0 L123.5 321.7 L124.0 320.3 L124.5 318.9 L125.0 317.4 L125.5 315.9 L126.0 314.3 L126.5 312.7 L127.0 311.0 L127.5 309.3 L128.0 307.6 L128.5 305.8 L129.0 304.0 L129.5 302.3 L130.0 300.5 L130.5 298.7 L131.0 297.0 L131.5 295.2 L132.0 293.4 L132.5 291.6 L133.0 289.7 L133.5 287.9 L134.0 286.0 L134.5 284.1 L135.0 282.2 L135.5 280.3 L136.0 278.4 L136.5 276.4 L137.0 274.4 L137.5 272.4 L138.0 270.4 L138.5 268.4 L139.0 266.4 L139.5 264.3 L140.0 262.3 L140.5 260.2 L141.0 258.1 L141.5 255.9 L142.0 253.8 L142.5 251.6 L143.0 249.5 L143.5 247.3 L144.0 245.1 L144.5 242.9 L145.0 240.7 L145.5 238.5 L146.0 236.2 L146.5 234.0 L147.0 231.8 L147.5 229.6 L148.0 227.5 L148.5 225.4 L149.0 223.4 L149.5 221.3 L150.0 219.3 L150.5 217.2 L151.0 215.2 L151.5 213.2 L152.0 211.2 L152.5 209.2 L153.0 207.2 L153.5 205.3 L154.0 203.3 L154.5 201.4 L155.0 199.4 L155.5 197.5 L156.0 195.5 L156.5 193.5 L157.0 191.4 L157.5 189.3 L158.0 187.2 L158.5 185.1 L159.0 183.1 L159.5 181.3 L160.0 179.6 L160.5 178.1 L161.0 176.7 L161.5 175.3 L162.0 174.0 L162.5 172.8 L163.0 171.6 L163.5 170.4 L164.0 169.3 L164.5 168.3 L165.0 167.3 L165.5 166.4 L166.0 165.5 L166.5 164.7 L167.0 163.9 L167.5 163.1 L168.0 162.4 L168.5 161.7 L169.0 161.0 L169.5 160.3 L170.0 159.7 L170.5 159.1 L171.0 158.6 L171.5 158.1 L172.0 157.7 L172.5 157.4 L173.0 157.0 L173.5 156.6 L174.0 156.3 L174.5 156.0 L175.0 155.6 L175.5 155.4 L176.0 155.1 L176.5 154.9 L177.0 154.7 L177.5 154.6 L178.0 154.5 L178.5 154.5 L179.0 154.6 L179.5 154.7 L180.0 154.9 L180.5 155.1 L181.0 155.4 L181.5 155.7 L182.0 156.1 L182.5 156.4 L183.0 156.8 L183.5 157.2 L184.0 157.5 L184.5 157.8 L185.0 158.2 L185.5 158.6 L186.0 159.0 L186.5 159.4 L187.0 159.9 L187.5 160.4 L188.0 160.8 L188.5 161.4 L189.0 161.9 L189.5 162.4 L190.0 163.0 L190.5 163.6 L191.0 164.3 L191.5 165.0 L192.0 165.8 L192.5 166.6 L193.0 167.4 L193.5 168.3 L194.0 169.2 L194.5 170.1 L195.0 171.0 L195.5 171.9 L196.0 172.8 L196.5 173.7 L197.0 174.6 L197.5 175.5 L198.0 176.4 L198.5 177.3 L199.0 178.2 L199.5 179.1 L200.0 180.1 L200.5 180.9 L201.0 181.8 L201.5 182.7 L202.0 183.5 L202.5 184.3 L203.0 185.1 L203.5 186.0 L204.0 186.8 L204.5 187.6 L205.0 188.4 L205.5 189.1 L206.0 189.9 L206.5 190.6 L207.0 191.3 L207.5 191.9 L208.0 192.6 L208.5 193.1 L209.0 193.6 L209.5 194.2 L210.0 194.7 L210.5 195.2 L211.0 195.6 L211.5 196.1 L212.0 196.5 L212.5 196.9 L213.0 197.3 L213.5 197.7 L214.0 198.0 L214.5 198.4 L215.0 198.6 L215.1 198.7 L215.6 198.7 L216.1 198.6 L216.6 198.4 L217.1 198.3 L217.6 198.0 L218.1 197.8 L218.6 197.4 L219.1 197.1 L219.6 196.7 L220.1 196.3 L220.6 195.8 L221.1 195.4 L221.6 194.9 L222.1 194.4 L222.6 193.8 L223.1 193.1 L223.6 192.1 L224.1 191.0 L224.6 189.8 L225.1 188.5 L225.6 187.0 L226.1 185.5 L226.6 184.0 L227.1 182.4 L227.6 180.8 L228.1 179.2 L228.6 177.5 L229.1 175.6 L229.6 173.6 L230.1 171.6 L230.6 169.4 L231.1 167.2 L231.6 164.9 L232.1 162.6 L232.6 160.3 L233.1 158.0 L233.6 155.6 L234.1 153.3 L234.6 150.8 L235.1 148.3 L235.6 145.8 L236.1 143.2 L236.6 140.6 L237.1 138.0 L237.6 135.4 L238.1 132.8 L238.6 130.1 L239.1 127.4 L239.6 124.7 L240.1 122.1 L240.6 119.4 L241.1 116.8 L241.6 114.2 L242.1 111.6 L242.6 108.9 L243.1 106.2 L243.6 103.6 L244.1 101.1 L244.6 98.8 L245.1 96.6 L245.6 94.6 L246.1 92.5 L246.6 90.5 L247.1 88.6 L247.6 86.9 L248.1 85.3 L248.6 83.9 L249.1 82.8 L249.6 81.9 L250.1 81.0 L250.6 80.2 L251.1 79.4 L251.6 78.7 L252.1 78.1 L252.6 77.6 L253.1 77.3 L253.6 77.1 L254.1 77.1 L254.6 77.4 L255.1 77.8 L255.6 78.4 L256.1 79.2 L256.6 80.0 L257.1 81.0 L257.6 81.9 L258.1 82.9 L258.6 84.0 L259.1 85.2 L259.6 86.7 L260.1 88.3 L260.6 90.1 L261.1 91.9 L261.6 93.9 L262.1 95.8 L262.6 97.8 L263.1 100.0 L263.6 102.3 L264.1 104.8 L264.6 107.3 L265.1 109.9 L265.6 112.6 L266.1 115.2 L266.6 117.9 L267.1 120.7 L267.6 123.6 L268.1 126.5 L268.6 129.5 L269.1 132.5 L269.6 135.4 L270.1 138.3 L270.6 141.1 L271.1 143.9 L271.6 146.7 L272.1 149.4 L272.6 152.1 L273.1 154.8 L273.6 157.5 L274.1 160.1 L274.6 162.8 L275.1 165.4 L275.6 168.0 L276.1 170.6 L276.6 173.2 L277.1 175.7 L277.6 178.1 L278.1 180.5 L278.6 182.9 L279.1 185.3 L279.6 187.6 L280.1 190.0 L280.6 192.4 L281.1 194.6 L281.6 196.9 L282.1 199.0 L282.6 201.1 L283.1 203.1 L283.6 205.0 L284.1 206.7 L284.6 208.3 L285.1 209.8 L285.6 211.3 L286.1 212.8 L286.6 214.2 L287.1 215.5 L287.6 216.8 L288.1 218.0 L288.6 219.2 L289.1 220.3 L289.6 221.3 L290.1 222.3 L290.6 223.2 L291.1 224.2 L291.6 225.1 L292.1 226.0 L292.6 226.8 L293.1 227.6 L293.6 228.4 L294.1 229.1 L294.6 229.7 L295.1 230.3 L295.6 230.8 L296.1 231.3 L296.6 231.7 L297.1 232.1 L297.6 232.5 L298.1 232.9 L298.6 233.3 L299.1 233.7 L299.6 234.0 L300.1 234.3 L300.6 234.6 L301.1 234.8 L301.6 235.0 L302.1 235.2 L302.6 235.3 L303.1 235.3 L303.6 235.3 L304.1 235.1 L304.6 234.9 L305.1 234.7 L305.6 234.3 L306.1 233.9 L306.6 233.4 L307.1 232.9 L307.6 232.3 L308.1 231.7 L308.6 231.1 L309.1 230.4 L309.6 229.7 L310.1 228.8 L310.6 227.7 L311.1 226.4 L311.6 225.0 L312.1 223.5 L312.6 221.9 L313.1 220.1 L313.6 218.4 L314.1 216.6 L314.6 214.7 L315.1 212.5 L315.6 210.2 L316.1 207.7 L316.6 205.1 L317.1 202.4 L317.6 199.5 L318.1 196.7 L318.6 193.7 L319.1 190.7 L319.6 187.4 L320.1 184.0 L320.6 180.5 L321.1 176.8 L321.6 172.9 L322.1 168.6 L322.6 164.0 L323.1 159.5 L323.6 155.2 L324.1 151.3 L324.6 147.7 L325.1 144.3 L325.6 141.1 L326.1 138.0 L326.6 134.9 L327.1 131.8 L327.6 128.8 L328.1 126.0 L328.6 123.5 L329.1 121.4 L329.6 119.6 L330.1 118.0 L330.6 116.5 L331.1 115.3 L331.6 114.2 L332.1 113.4 L332.2 113.3 L332.7 113.9 L333.2 114.8 L333.7 115.9 L334.2 117.2 L334.7 118.7 L335.2 120.3 L335.7 122.2 L336.2 124.6 L336.7 127.3 L337.2 130.2 L337.7 133.2 L338.2 136.2 L338.7 139.1 L339.2 142.1 L339.7 145.5 L340.2 149.2 L340.7 153.6 L341.2 158.8 L341.7 164.6 L342.2 170.6 L342.7 176.5 L343.2 182.3 L343.7 188.2 L344.2 194.1 L344.7 199.8 L345.2 205.0 L345.7 209.6 L346.2 213.8 L346.7 217.9 L347.2 221.8 L347.7 225.6 L348.2 229.6 L348.7 233.6 L349.2 237.6 L349.7 241.5 L350.2 245.0 L350.7 248.3 L351.2 251.5 L351.7 254.5 L352.2 257.4 L352.7 260.0 L353.2 262.4 L353.7 264.8 L354.2 267.1 L354.7 269.3 L355.2 271.3 L355.7 273.2 L356.2 274.9 L356.7 276.5 L357.2 277.8 L357.7 279.0 L358.2 280.1 L358.7 281.2 L359.2 282.1 L359.7 283.1 L360.2 284.0 L360.7 284.8 L361.2 285.6 L361.7 286.4 L362.2 287.2 L362.7 288.0 L363.2 288.8 L363.7 289.7 L364.2 290.5 L364.7 291.3 L365.2 292.1 L365.7 293.0 L366.2 293.8 L366.7 294.6 L367.2 295.3 L367.7 296.1 L368.2 296.9 L368.7 297.6 L369.2 298.4 L369.7 299.1 L370.2 299.8 L370.7 300.4 L371.2 301.1 L371.7 301.7 L372.2 302.3 L372.7 302.9 L373.2 303.5 L373.7 304.0 L374.2 304.6 L374.7 305.1 L375.2 305.6 L375.7 306.1 L376.2 306.6 L376.7 307.1 L377.2 307.6 L377.7 308.1 L378.2 308.5 L378.7 309.0 L379.2 309.4 L379.7 309.9 L380.2 310.3 L380.7 310.7 L381.2 311.1 L381.7 311.5 L382.2 311.9 L382.7 312.3 L383.2 312.7 L383.7 313.1 L384.2 313.4 L384.7 313.8 L385.2 314.2 L385.7 314.5 L386.2 314.9 L386.7 315.2 L387.2 315.5 L387.7 315.9 L388.2 316.2 L388.7 316.5 L389.2 316.8 L389.7 317.1 L390.2 317.5 L390.7 317.7 L391.2 318.0 L391.7 318.3 L392.2 318.6 L392.7 318.5 L393.2 318.3 L393.7 318.0 L394.2 317.6 L394.7 317.0 L395.2 316.4 L395.7 315.7 L396.2 314.9 L396.7 314.1 L397.2 313.2 L397.7 311.9 L398.2 310.1 L398.7 307.8 L399.2 305.3 L399.7 302.7 L400.2 300.2 L400.7 297.7 L401.2 295.0 L401.7 292.2 L402.2 289.3 L402.7 286.4 L403.2 283.4 L403.7 280.2 L404.2 277.0 L404.7 273.9 L405.2 270.8 L405.7 267.8 L406.2 264.9 L406.7 261.9 L407.2 259.0 L407.7 256.3 L408.2 253.8 L408.7 251.6 L409.2 249.5 L409.7 247.5 L410.2 245.7 L410.7 243.9 L411.2 242.3 L411.7 240.9 L412.2 239.6 L412.3 239.4 L412.8 241.1 L413.3 243.1 L413.8 245.1 L414.3 247.4 L414.8 249.7 L415.3 252.2 L415.8 254.7 L416.3 257.4 L416.8 260.4 L417.3 263.8 L417.8 267.7 L418.3 272.8 L418.8 278.8 L419.3 285.0 L419.8 290.9 L420.3 296.1 L420.8 301.2 L421.3 306.2 L421.8 310.9 L422.3 315.4 L422.8 319.5 L423.3 323.2 L423.8 326.8 L424.3 330.3 L424.8 333.6 L425.3 336.7 L425.8 339.5 L426.3 342.0 L426.8 344.1 L427.3 345.8 L427.8 347.4 L428.3 348.8 L428.8 350.1 L429.3 351.3 L429.8 352.4 L430.3 353.4 L430.8 354.4 L431.3 355.3 L431.8 356.2 L432.3 357.0 L432.8 357.7 L433.3 358.5 L433.8 359.2 L434.3 359.9 L434.8 360.6 L435.3 361.3 L435.8 361.9 L436.3 362.5 L436.8 363.1 L437.3 363.6 L437.8 364.1 L438.3 364.6 L438.8 365.1 L439.3 365.5 L439.8 365.9 L440.3 366.3 L440.8 366.6 L441.3 366.9 L441.8 367.3 L442.3 367.6 L442.8 367.9 L443.3 368.1 L443.8 368.4 L444.3 368.6 L444.8 368.9 L445.3 369.1 L445.8 369.4 L446.3 369.6 L446.8 369.8 L447.3 370.0 L447.8 370.3 L448.3 370.5 L448.8 370.7 L449.3 370.9 L449.8 371.1 L450.3 371.3 L450.8 371.6 L451.3 371.8 L451.8 372.0 L452.3 372.2 L452.8 372.5 L453.3 372.7 L453.8 372.9 L454.3 373.1 L454.8 373.4 L455.3 373.6 L455.8 373.8 L456.3 374.0 L456.8 374.2 L457.3 374.4 L457.8 374.5 L458.3 374.7 L458.8 374.9 L459.3 375.0 L459.8 375.2 L460.3 375.3 L460.8 375.5 L461.3 375.6 L461.8 375.7 L462.3 375.8 L462.8 376.0 L463.3 376.1 L463.8 376.2 L464.3 376.3 L464.8 376.5 L465.3 376.6 L465.8 376.7 L466.3 376.8 L466.8 376.9 L467.3 377.0 L467.8 377.1 L468.3 377.2 L468.8 377.3 L469.3 377.3 L469.8 377.4 L470.3 377.5 L470.8 377.5 L471.3 377.6 L471.8 377.7 L472.3 377.7 L472.8 377.7 L473.3 377.5 L473.8 377.3 L474.3 377.0 L474.8 376.7 L475.3 376.3 L475.8 375.9 L476.3 375.4 L476.8 374.8 L477.3 374.3 L477.8 373.6 L478.3 372.6 L478.8 371.3 L479.3 369.9 L479.8 368.3 L480.3 366.7 L480.8 364.9 L481.3 363.2 L481.8 361.3 L482.3 359.2 L482.8 356.8 L483.3 354.4 L483.8 351.9 L484.3 349.5 L484.8 347.2 L485.3 345.2 L485.8 343.2 L486.3 341.2 L486.8 339.2 L487.3 337.3 L487.8 335.6 L488.3 334.0 L488.8 332.7 L489.3 331.7 L489.8 331.1 L490.3 330.4 L490.8 329.8 L491.3 329.3 L491.8 328.8 L492.3 328.4 L492.8 328.2 L493.3 328.1 L493.4 328.1 L493.9 330.8 L494.4 333.6 L494.9 336.5 L495.4 339.3 L495.9 342.2 L496.4 345.2 L496.9 348.3 L497.4 351.6 L497.9 355.0 L498.4 358.3 L498.9 361.4 L499.4 364.2 L499.9 366.6 L500.4 368.9 L500.9 371.0 L501.4 372.9 L501.9 374.7 L502.4 376.3 L502.9 377.9 L503.4 379.3 L503.9 380.7 L504.4 381.9 L504.9 382.8 L505.4 383.5 L505.9 384.1 L506.4 384.6 L506.9 385.1 L507.4 385.5 L507.9 385.9 L508.4 386.2 L508.9 386.5 L509.4 386.8 L509.9 387.0 L510.4 387.2 L510.9 387.4 L511.4 387.6 L511.9 387.8 L512.4 387.9 L512.9 388.1 L513.4 388.2 L513.9 388.4 L514.4 388.5 L514.9 388.6 L515.4 388.8 L515.9 388.9 L516.4 389.0 L516.9 389.2 L517.4 389.3 L517.9 389.4 L518.4 389.5 L518.9 389.6 L519.4 389.7 L519.9 389.8 L520.4 389.9 L520.9 390.0 L521.4 390.1 L521.9 390.2 L522.4 390.2 L522.9 390.3 L523.4 390.4 L523.9 390.4 L524.4 390.5 L524.9 390.6 L525.4 390.6 L525.9 390.7 L526.4 390.8 L526.9 390.8 L527.4 390.9 L527.9 390.9 L528.4 391.0 L528.9 391.0 L529.4 391.1 L529.9 391.1 L530.4 391.1 L530.9 391.2 L531.4 391.2 L531.5 391.2" stroke="#ff0000" stroke-width="1.15"/>
<path d="M54.5 390.0 L55.0 390.0 L55.5 389.9 L56.0 389.9 L56.5 389.8 L57.0 389.8 L57.5 389.7 L58.0 389.7 L58.5 389.6 L59.0 389.5 L59.5 389.5 L60.0 389.4 L60.5 389.4 L61.0 389.3 L61.5 389.2 L62.0 389.2 L62.5 389.1 L63.0 389.0 L63.5 389.0 L64.0 388.9 L64.5 388.8 L65.0 388.8 L65.5 388.7 L66.0 388.6 L66.5 388.6 L67.0 388.5 L67.5 388.4 L68.0 388.3 L68.5 388.2 L69.0 388.1 L69.5 388.0 L70.0 387.9 L70.5 387.8 L71.0 387.6 L71.5 387.5 L72.0 387.4 L72.5 387.2 L73.0 387.1 L73.5 386.9 L74.0 386.8 L74.5 386.6 L75.0 386.5 L75.5 386.3 L76.0 386.1 L76.5 386.0 L77.0 385.8 L77.5 385.6 L78.0 385.4 L78.5 385.2 L79.0 385.0 L79.5 384.8 L80.0 384.6 L80.5 384.4 L81.0 384.2 L81.5 383.9 L82.0 383.7 L82.5 383.4 L83.0 383.2 L83.5 382.9 L84.0 382.6 L84.5 382.2 L85.0 381.9 L85.5 381.5 L86.0 381.2 L86.5 380.8 L87.0 380.4 L87.5 379.9 L88.0 379.5 L88.5 379.1 L89.0 378.6 L89.5 378.2 L90.0 377.7 L90.5 377.2 L91.0 376.7 L91.5 376.2 L92.0 375.6 L92.5 375.1 L93.0 374.5 L93.5 373.9 L94.0 373.3 L94.5 372.6 L95.0 372.0 L95.5 371.3 L96.0 370.7 L96.5 370.0 L97.0 369.3 L97.5 368.6 L98.0 367.9 L98.5 367.2 L99.0 366.5 L99.5 365.8 L100.0 365.0 L100.5 364.2 L101.0 363.4 L101.5 362.6 L102.0 361.8 L102.5 361.0 L103.0 360.2 L103.5 359.3 L104.0 358.5 L104.5 357.6 L105.0 356.7 L105.5 355.8 L106.0 354.9 L106.5 354.0 L107.0 353.0 L107.5 352.1 L108.0 351.1 L108.5 350.1 L109.0 349.1 L109.5 348.1 L110.0 347.1 L110.5 346.0 L111.0 345.0 L111.5 343.9 L112.0 342.8 L112.5 341.7 L113.0 340.6 L113.5 339.5 L114.0 338.3 L114.5 337.2 L115.0 336.0 L115.5 334.8 L116.0 333.5 L116.5 332.3 L117.0 331.0 L117.5 329.8 L118.0 328.5 L118.5 327.1 L119.0 325.8 L119.5 324.4 L120.0 323.0 L120.5 321.6 L121.0 320.2 L121.5 318.8 L122.0 317.4 L122.5 315.9 L123.0 314.5 L123.5 313.1 L124.0 311.7 L124.5 310.3 L125.0 308.8 L125.5 307.4 L126.0 306.0 L126.5 304.5 L127.0 303.0 L127.5 301.5 L128.0 300.0 L128.5 298.4 L129.0 296.7 L129.5 295.0 L130.0 293.3 L130.5 291.6 L131.0 289.8 L131.5 288.0 L132.0 286.2 L132.5 284.4 L133.0 282.6 L133.5 280.7 L134.0 278.8 L134.5 277.0 L135.0 275.1 L135.5 273.2 L136.0 271.4 L136.5 269.5 L137.0 267.6 L137.5 265.8 L138.0 264.0 L138.5 262.2 L139.0 260.4 L139.5 258.5 L140.0 256.7 L140.5 254.8 L141.0 253.0 L141.5 251.1 L142.0 249.3 L142.5 247.4 L143.0 245.6 L143.5 243.7 L144.0 241.9 L144.5 240.1 L145.0 238.3 L145.5 236.5 L146.0 234.8 L146.5 233.1 L147.0 231.3 L147.5 229.7 L148.0 228.0 L148.5 226.3 L149.0 224.7 L149.5 223.0 L150.0 221.4 L150.5 219.8 L151.0 218.1 L151.5 216.5 L152.0 214.9 L152.5 213.4 L153.0 211.8 L153.5 210.3 L154.0 208.8 L154.5 207.3 L155.0 205.8 L155.5 204.4 L156.0 202.9 L156.5 201.6 L157.0 200.2 L157.5 198.9 L158.0 197.5 L158.5 196.2 L159.0 194.9 L159.5 193.6 L160.0 192.3 L160.5 191.1 L161.0 189.8 L161.5 188.6 L162.0 187.4 L162.5 186.3 L163.0 185.2 L163.5 184.1 L164.0 183.0 L164.5 182.0 L165.0 181.0 L165.5 180.0 L166.0 179.1 L166.5 178.1 L167.0 177.2 L167.5 176.2 L168.0 175.3 L168.5 174.4 L169.0 173.5 L169.5 172.7 L170.0 171.9 L170.5 171.1 L171.0 170.3 L171.5 169.6 L172.0 169.0 L172.5 168.4 L173.0 167.8 L173.5 167.4 L174.0 166.9 L174.5 166.5 L175.0 166.1 L175.5 165.7 L176.0 165.4 L176.5 165.0 L177.0 164.7 L177.5 164.3 L178.0 164.0 L178.5 163.8 L179.0 163.5 L179.5 163.3 L180.0 163.2 L180.5 163.1 L181.0 163.0 L181.5 163.0 L182.0 163.1 L182.5 163.2 L183.0 163.4 L183.5 163.6 L184.0 163.8 L184.5 164.1 L185.0 164.5 L185.5 164.8 L186.0 165.2 L186.5 165.6 L187.0 166.1 L187.5 166.5 L188.0 166.9 L188.5 167.3 L189.0 167.7 L189.5 168.1 L190.0 168.5 L190.5 168.9 L191.0 169.3 L191.5 169.7 L192.0 170.1 L192.5 170.5 L193.0 171.0 L193.5 171.4 L194.0 171.9 L194.5 172.3 L195.0 172.8 L195.5 173.3 L196.0 173.7 L196.5 174.2 L197.0 174.6 L197.5 175.1 L198.0 175.5 L198.5 175.9 L199.0 176.3 L199.5 176.7 L200.0 177.0 L200.5 177.3 L201.0 177.7 L201.5 178.1 L202.0 178.4 L202.5 178.8 L203.0 179.2 L203.5 179.5 L204.0 179.9 L204.5 180.3 L205.0 180.6 L205.5 181.0 L206.0 181.3 L206.5 181.7 L207.0 182.0 L207.5 182.3 L208.0 182.6 L208.5 182.9 L209.0 183.1 L209.5 183.4 L210.0 183.6 L210.5 183.7 L211.0 183.9 L211.5 184.0 L212.0 184.1 L212.5 184.2 L213.0 184.2 L213.5 184.2 L214.0 184.1 L214.5 184.0 L215.0 183.8 L215.5 183.6 L216.0 183.3 L216.5 183.0 L217.0 182.7 L217.5 182.3 L218.0 181.9 L218.5 181.5 L219.0 181.0 L219.5 180.5 L220.0 180.0 L220.5 179.5 L221.0 179.0 L221.5 178.4 L222.0 177.8 L222.5 177.1 L223.0 176.2 L223.5 175.2 L224.0 174.1 L224.5 172.8 L225.0 171.5 L225.5 170.1 L226.0 168.7 L226.5 167.2 L227.0 165.6 L227.5 164.1 L228.0 162.6 L228.5 161.0 L229.0 159.5 L229.5 158.1 L230.0 156.6 L230.5 155.1 L231.0 153.6 L231.5 152.0 L232.0 150.4 L232.5 148.8 L233.0 147.1 L233.5 145.5 L234.0 143.9 L234.5 142.3 L235.0 140.7 L235.5 139.2 L236.0 137.7 L236.5 136.3 L237.0 134.9 L237.5 133.6 L238.0 132.3 L238.5 130.9 L239.0 129.6 L239.5 128.3 L240.0 126.9 L240.5 125.4 L241.0 123.9 L241.5 122.2 L242.0 120.6 L242.5 119.0 L243.0 117.4 L243.5 116.0 L244.0 114.7 L244.5 113.7 L245.0 112.6 L245.5 111.6 L246.0 110.7 L246.5 109.8 L247.0 109.1 L247.5 108.4 L248.0 108.0 L248.5 107.6 L249.0 107.3 L249.5 106.9 L250.0 106.6 L250.5 106.4 L251.0 106.1 L251.5 105.9 L252.0 105.8 L252.5 105.6 L253.0 105.5 L253.5 105.5 L254.0 105.5 L254.5 105.6 L255.0 105.8 L255.5 106.0 L256.0 106.3 L256.5 106.6 L257.0 107.0 L257.5 107.4 L258.0 107.8 L258.5 108.3 L259.0 108.9 L259.5 109.8 L260.0 110.8 L260.5 112.0 L261.0 113.2 L261.5 114.5 L262.0 115.8 L262.5 117.1 L263.0 118.4 L263.5 119.8 L264.0 121.3 L264.5 122.9 L265.0 124.5 L265.5 126.1 L266.0 127.8 L266.5 129.5 L267.0 131.3 L267.5 133.1 L268.0 135.1 L268.5 137.0 L269.0 138.9 L269.5 140.7 L270.0 142.6 L270.5 144.4 L271.0 146.2 L271.5 148.0 L272.0 149.8 L272.5 151.6 L273.0 153.4 L273.5 155.2 L274.0 157.1 L274.5 158.9 L275.0 160.7 L275.5 162.6 L276.0 164.6 L276.5 166.5 L277.0 168.5 L277.5 170.5 L278.0 172.4 L278.5 174.3 L279.0 176.2 L279.5 178.0 L280.0 179.8 L280.5 181.4 L281.0 183.1 L281.5 184.7 L282.0 186.3 L282.5 187.9 L283.0 189.5 L283.5 191.0 L284.0 192.5 L284.5 193.9 L285.0 195.3 L285.5 196.6 L286.0 197.9 L286.5 199.2 L287.0 200.5 L287.5 201.8 L288.0 203.0 L288.5 204.2 L289.0 205.4 L289.5 206.6 L290.0 207.6 L290.5 208.6 L291.0 209.6 L291.5 210.4 L292.0 211.1 L292.5 211.7 L293.0 212.3 L293.5 212.9 L294.0 213.5 L294.5 214.1 L295.0 214.7 L295.5 215.2 L296.0 215.7 L296.5 216.2 L297.0 216.7 L297.5 217.1 L298.0 217.5 L298.5 217.8 L299.0 218.1 L299.5 218.3 L300.0 218.5 L300.5 218.6 L301.0 218.7 L301.5 218.7 L302.0 218.6 L302.5 218.4 L303.0 218.2 L303.5 217.9 L304.0 217.6 L304.5 217.2 L305.0 216.7 L305.5 216.3 L306.0 215.7 L306.5 215.2 L307.0 214.6 L307.5 214.0 L308.0 213.4 L308.5 212.8 L309.0 212.0 L309.5 211.0 L310.0 209.9 L310.5 208.7 L311.0 207.4 L311.5 206.1 L312.0 204.6 L312.5 203.2 L313.0 201.7 L313.5 200.2 L314.0 198.8 L314.5 197.3 L315.0 195.8 L315.5 194.1 L316.0 192.4 L316.5 190.7 L317.0 188.9 L317.5 187.1 L318.0 185.4 L318.5 183.8 L319.0 182.2 L319.5 180.8 L320.0 179.6 L320.5 178.4 L321.0 177.4 L321.5 176.3 L322.0 175.3 L322.5 174.3 L323.0 173.3 L323.5 172.5 L324.0 171.6 L324.5 170.9 L325.0 170.2 L325.5 169.7 L326.0 169.2 L326.5 168.9 L327.0 168.5 L327.5 168.2 L328.0 167.9 L328.5 167.7 L329.0 167.4 L329.5 167.2 L330.0 167.1 L330.5 167.0 L331.0 167.0 L331.5 167.1 L332.0 167.4 L332.5 167.9 L333.0 168.5 L333.5 169.1 L334.0 169.9 L334.5 170.8 L335.0 171.7 L335.5 172.6 L336.0 173.5 L336.5 174.5 L337.0 175.6 L337.5 177.0 L338.0 178.5 L338.5 180.1 L339.0 181.9 L339.5 183.7 L340.0 185.5 L340.5 187.3 L341.0 189.1 L341.5 190.8 L342.0 192.4 L342.5 194.1 L343.0 195.8 L343.5 197.5 L344.0 199.3 L344.5 201.1 L345.0 202.9 L345.5 204.8 L346.0 206.8 L346.5 208.9 L347.0 211.1 L347.5 213.4 L348.0 215.8 L348.5 218.2 L349.0 220.6 L349.5 222.9 L350.0 225.3 L350.5 227.6 L351.0 229.8 L351.5 232.0 L352.0 234.2 L352.5 236.4 L353.0 238.5 L353.5 240.7 L354.0 242.8 L354.5 245.0 L355.0 247.1 L355.5 249.2 L356.0 251.3 L356.5 253.4 L357.0 255.5 L357.5 257.7 L358.0 259.8 L358.5 262.0 L359.0 264.0 L359.5 266.1 L360.0 268.1 L360.5 270.0 L361.0 271.8 L361.5 273.4 L362.0 275.0 L362.5 276.5 L363.0 277.9 L363.5 279.2 L364.0 280.6 L364.5 281.8 L365.0 283.1 L365.5 284.2 L366.0 285.4 L366.5 286.4 L367.0 287.5 L367.5 288.4 L368.0 289.3 L368.5 290.2 L369.0 291.0 L369.5 291.9 L370.0 292.7 L370.5 293.5 L371.0 294.3 L371.5 295.0 L372.0 295.7 L372.5 296.4 L373.0 297.1 L373.5 297.7 L374.0 298.3 L374.5 298.8 L375.0 299.3 L375.5 299.7 L376.0 300.1 L376.5 300.5 L377.0 300.8 L377.5 301.2 L378.0 301.6 L378.5 301.9 L379.0 302.2 L379.5 302.6 L380.0 302.9 L380.5 303.2 L381.0 303.4 L381.5 303.7 L382.0 303.9 L382.5 304.1 L383.0 304.3 L383.5 304.4 L384.0 304.5 L384.5 304.6 L385.0 304.6 L385.5 304.6 L386.0 304.5 L386.5 304.4 L387.0 304.3 L387.5 304.2 L388.0 304.0 L388.5 303.8 L389.0 303.5 L389.5 303.3 L390.0 303.0 L390.5 302.7 L391.0 302.4 L391.5 302.1 L392.0 301.7 L392.5 301.4 L393.0 301.0 L393.5 300.7 L394.0 300.3 L394.5 300.0 L395.0 299.5 L395.5 299.0 L396.0 298.4 L396.5 297.7 L397.0 297.1 L397.5 296.4 L398.0 295.7 L398.5 295.0 L399.0 294.3 L399.5 293.7 L400.0 293.1 L400.5 292.6 L401.0 292.2 L401.5 291.9 L402.0 291.6 L402.5 291.3 L403.0 291.0 L403.5 290.7 L404.0 290.4 L404.5 290.2 L405.0 289.9 L405.5 289.7 L406.0 289.5 L406.5 289.3 L407.0 289.2 L407.5 289.1 L408.0 289.1 L408.5 289.1 L409.0 289.2 L409.5 289.4 L410.0 289.7 L410.5 290.1 L411.0 290.5 L411.5 290.9 L412.0 291.5 L412.5 292.0 L413.0 292.6 L413.5 293.2 L414.0 293.7 L414.5 294.3 L415.0 295.0 L415.5 295.8 L416.0 296.7 L416.5 297.7 L417.0 298.8 L417.5 299.9 L418.0 301.0 L418.5 302.2 L419.0 303.4 L419.5 304.6 L420.0 305.8 L420.5 307.0 L421.0 308.2 L421.5 309.5 L422.0 310.8 L422.5 312.1 L423.0 313.5 L423.5 314.9 L424.0 316.4 L424.5 317.8 L425.0 319.2 L425.5 320.6 L426.0 322.0 L426.5 323.3 L427.0 324.7 L427.5 326.1 L428.0 327.5 L428.5 328.9 L429.0 330.3 L429.5 331.7 L430.0 333.1 L430.5 334.4 L431.0 335.7 L431.5 336.9 L432.0 338.1 L432.5 339.2 L433.0 340.2 L433.5 341.3 L434.0 342.3 L434.5 343.3 L435.0 344.2 L435.5 345.2 L436.0 346.1 L436.5 347.0 L437.0 347.9 L437.5 348.8 L438.0 349.6 L438.5 350.5 L439.0 351.3 L439.5 352.1 L440.0 352.9 L440.5 353.7 L441.0 354.5 L441.5 355.2 L442.0 356.0 L442.5 356.8 L443.0 357.5 L443.5 358.3 L444.0 359.0 L444.5 359.7 L445.0 360.4 L445.5 361.1 L446.0 361.7 L446.5 362.3 L447.0 362.9 L447.5 363.5 L448.0 364.0 L448.5 364.5 L449.0 365.0 L449.5 365.4 L450.0 365.9 L450.5 366.4 L451.0 366.8 L451.5 367.2 L452.0 367.6 L452.5 368.0 L453.0 368.4 L453.5 368.7 L454.0 369.1 L454.5 369.4 L455.0 369.7 L455.5 370.0 L456.0 370.2 L456.5 370.4 L457.0 370.7 L457.5 370.9 L458.0 371.1 L458.5 371.3 L459.0 371.6 L459.5 371.8 L460.0 372.0 L460.5 372.1 L461.0 372.3 L461.5 372.5 L462.0 372.6 L462.5 372.7 L463.0 372.8 L463.5 372.9 L464.0 372.9 L464.5 372.9 L465.0 372.9 L465.5 372.8 L466.0 372.7 L466.5 372.6 L467.0 372.4 L467.5 372.2 L468.0 372.0 L468.5 371.8 L469.0 371.5 L469.5 371.3 L470.0 371.0 L470.5 370.7 L471.0 370.4 L471.5 370.1 L472.0 369.8 L472.5 369.4 L473.0 369.1 L473.5 368.8 L474.0 368.5 L474.5 368.2 L475.0 367.8 L475.5 367.4 L476.0 367.0 L476.5 366.5 L477.0 366.0 L477.5 365.5 L478.0 365.0 L478.5 364.5 L479.0 363.9 L479.5 363.4 L480.0 362.9 L480.5 362.5 L481.0 362.1 L481.5 361.7 L482.0 361.4 L482.5 361.1 L483.0 360.8 L483.5 360.6 L484.0 360.3 L484.5 360.0 L485.0 359.8 L485.5 359.6 L486.0 359.3 L486.5 359.1 L487.0 358.9 L487.5 358.7 L488.0 358.6 L488.5 358.4 L489.0 358.3 L489.5 358.3 L490.0 358.2 L490.5 358.2 L491.0 358.2 L491.5 358.3 L492.0 358.5 L492.5 358.7 L493.0 358.9 L493.5 359.1 L494.0 359.4 L494.5 359.7 L495.0 359.9 L495.5 360.2 L496.0 360.6 L496.5 361.0 L497.0 361.5 L497.5 362.0 L498.0 362.6 L498.5 363.2 L499.0 363.8 L499.5 364.4 L500.0 365.0 L500.5 365.6 L501.0 366.2 L501.5 366.9 L502.0 367.6 L502.5 368.3 L503.0 369.0 L503.5 369.8 L504.0 370.5 L504.5 371.2 L505.0 372.0 L505.5 372.7 L506.0 373.4 L506.5 374.1 L507.0 374.9 L507.5 375.6 L508.0 376.3 L508.5 377.0 L509.0 377.7 L509.5 378.4 L510.0 379.0 L510.5 379.6 L511.0 380.1 L511.5 380.7 L512.0 381.2 L512.5 381.7 L513.0 382.2 L513.5 382.7 L514.0 383.1 L514.5 383.6 L515.0 384.0 L515.5 384.4 L516.0 384.8 L516.5 385.2 L517.0 385.6 L517.5 386.0 L518.0 386.4 L518.5 386.7 L519.0 387.0 L519.5 387.3 L520.0 387.6 L520.5 387.9 L521.0 388.1 L521.5 388.3 L522.0 388.6 L522.5 388.8 L523.0 389.0 L523.5 389.2 L524.0 389.3 L524.5 389.5 L525.0 389.6 L525.5 389.8 L526.0 389.9 L526.5 390.0 L527.0 390.2 L527.5 390.3 L528.0 390.4 L528.5 390.5 L529.0 390.6 L529.5 390.7 L530.0 390.8 L530.5 390.9 L531.0 390.9 L531.5 391.0" stroke="#00ffff" stroke-width="1.15"/>
<path d="M54.5 388.8 L55.0 388.7 L55.5 388.7 L56.0 388.6 L56.5 388.5 L57.0 388.4 L57.5 388.3 L58.0 388.2 L58.5 388.2 L59.0 388.1 L59.5 388.0 L60.0 387.9 L60.5 387.8 L61.0 387.7 L61.5 387.6 L62.0 387.5 L62.5 387.4 L63.0 387.3 L63.5 387.2 L64.0 387.1 L64.5 387.0 L65.0 386.9 L65.5 386.8 L66.0 386.7 L66.5 386.5 L67.0 386.4 L67.5 386.3 L68.0 386.1 L68.5 386.0 L69.0 385.9 L69.5 385.7 L70.0 385.5 L70.5 385.4 L71.0 385.2 L71.5 385.0 L72.0 384.8 L72.5 384.6 L73.0 384.4 L73.5 384.2 L74.0 384.0 L74.5 383.7 L75.0 383.5 L75.5 383.3 L76.0 383.0 L76.5 382.7 L77.0 382.4 L77.5 382.2 L78.0 381.8 L78.5 381.5 L79.0 381.2 L79.5 380.8 L80.0 380.5 L80.5 380.1 L81.0 379.7 L81.5 379.3 L82.0 378.9 L82.5 378.5 L83.0 378.1 L83.5 377.7 L84.0 377.2 L84.5 376.7 L85.0 376.2 L85.5 375.7 L86.0 375.2 L86.5 374.7 L87.0 374.1 L87.5 373.5 L88.0 372.9 L88.5 372.4 L89.0 371.7 L89.5 371.1 L90.0 370.5 L90.5 369.9 L91.0 369.2 L91.5 368.6 L92.0 367.9 L92.5 367.2 L93.0 366.5 L93.5 365.7 L94.0 365.0 L94.5 364.2 L95.0 363.4 L95.5 362.6 L96.0 361.8 L96.5 361.0 L97.0 360.1 L97.5 359.3 L98.0 358.4 L98.5 357.5 L99.0 356.5 L99.5 355.6 L100.0 354.6 L100.5 353.5 L101.0 352.5 L101.5 351.4 L102.0 350.4 L102.5 349.3 L103.0 348.2 L103.5 347.0 L104.0 345.9 L104.5 344.7 L105.0 343.6 L105.5 342.4 L106.0 341.1 L106.5 339.9 L107.0 338.6 L107.5 337.2 L108.0 335.9 L108.5 334.6 L109.0 333.2 L109.5 331.9 L110.0 330.5 L110.5 329.1 L111.0 327.8 L111.5 326.4 L112.0 325.0 L112.5 323.6 L113.0 322.1 L113.5 320.7 L114.0 319.3 L114.5 317.9 L115.0 316.5 L115.5 315.1 L116.0 313.8 L116.5 312.4 L117.0 311.1 L117.5 309.7 L118.0 308.4 L118.5 307.1 L119.0 305.7 L119.5 304.3 L120.0 302.9 L120.5 301.5 L121.0 300.0 L121.5 298.5 L122.0 296.9 L122.5 295.3 L123.0 293.6 L123.5 291.9 L124.0 290.2 L124.5 288.4 L125.0 286.6 L125.5 284.8 L126.0 283.0 L126.5 281.1 L127.0 279.3 L127.5 277.5 L128.0 275.6 L128.5 273.8 L129.0 272.0 L129.5 270.2 L130.0 268.5 L130.5 266.8 L131.0 265.1 L131.5 263.4 L132.0 261.7 L132.5 260.0 L133.0 258.3 L133.5 256.6 L134.0 255.0 L134.5 253.3 L135.0 251.6 L135.5 250.0 L136.0 248.3 L136.5 246.6 L137.0 245.0 L137.5 243.3 L138.0 241.6 L138.5 239.9 L139.0 238.2 L139.5 236.5 L140.0 234.8 L140.5 233.1 L141.0 231.4 L141.5 229.7 L142.0 227.9 L142.5 226.1 L143.0 224.2 L143.5 222.4 L144.0 220.5 L144.5 218.7 L145.0 216.9 L145.5 215.1 L146.0 213.3 L146.5 211.6 L147.0 210.0 L147.5 208.4 L148.0 206.9 L148.5 205.3 L149.0 203.8 L149.5 202.4 L150.0 200.9 L150.5 199.5 L151.0 198.1 L151.5 196.7 L152.0 195.3 L152.5 194.0 L153.0 192.7 L153.5 191.4 L154.0 190.2 L154.5 189.0 L155.0 187.8 L155.5 186.5 L156.0 185.3 L156.5 184.1 L157.0 183.0 L157.5 181.8 L158.0 180.7 L158.5 179.6 L159.0 178.6 L159.5 177.6 L160.0 176.6 L160.5 175.7 L161.0 174.9 L161.5 174.1 L162.0 173.4 L162.5 172.6 L163.0 171.9 L163.5 171.2 L164.0 170.5 L164.5 169.8 L165.0 169.2 L165.5 168.6 L166.0 168.1 L166.5 167.6 L167.0 167.1 L167.5 166.7 L168.0 166.4 L168.5 166.1 L169.0 165.9 L169.5 165.6 L170.0 165.4 L170.5 165.2 L171.0 165.0 L171.5 164.8 L172.0 164.7 L172.5 164.5 L173.0 164.4 L173.5 164.3 L174.0 164.2 L174.5 164.1 L175.0 164.1 L175.5 164.1 L176.0 164.1 L176.5 164.2 L177.0 164.3 L177.5 164.5 L178.0 164.7 L178.5 164.9 L179.0 165.1 L179.5 165.4 L180.0 165.7 L180.5 166.0 L181.0 166.3 L181.5 166.7 L182.0 167.0 L182.5 167.4 L183.0 167.8 L183.5 168.1 L184.0 168.5 L184.5 168.9 L185.0 169.2 L185.5 169.6 L186.0 169.9 L186.5 170.2 L187.0 170.6 L187.5 170.9 L188.0 171.3 L188.5 171.7 L189.0 172.1 L189.5 172.6 L190.0 173.0 L190.5 173.4 L191.0 173.9 L191.5 174.3 L192.0 174.8 L192.5 175.2 L193.0 175.6 L193.5 176.1 L194.0 176.5 L194.5 176.9 L195.0 177.2 L195.5 177.6 L196.0 177.9 L196.5 178.3 L197.0 178.6 L197.5 178.9 L198.0 179.2 L198.5 179.6 L199.0 179.9 L199.5 180.3 L200.0 180.6 L200.5 180.9 L201.0 181.2 L201.5 181.5 L202.0 181.8 L202.5 182.0 L203.0 182.2 L203.5 182.4 L204.0 182.5 L204.5 182.6 L205.0 182.6 L205.5 182.6 L206.0 182.5 L206.5 182.4 L207.0 182.3 L207.5 182.1 L208.0 181.9 L208.5 181.6 L209.0 181.3 L209.5 181.0 L210.0 180.7 L210.5 180.3 L211.0 179.9 L211.5 179.5 L212.0 179.1 L212.5 178.7 L213.0 178.2 L213.5 177.8 L214.0 177.3 L214.5 176.8 L215.0 176.2 L215.5 175.5 L216.0 174.7 L216.5 173.9 L217.0 172.9 L217.5 171.9 L218.0 170.9 L218.5 169.8 L219.0 168.7 L219.5 167.5 L220.0 166.3 L220.5 165.1 L221.0 163.8 L221.5 162.6 L222.0 161.3 L222.5 160.0 L223.0 158.5 L223.5 157.0 L224.0 155.4 L224.5 153.7 L225.0 152.1 L225.5 150.3 L226.0 148.6 L226.5 146.9 L227.0 145.2 L227.5 143.5 L228.0 141.9 L228.5 140.4 L229.0 138.8 L229.5 137.2 L230.0 135.7 L230.5 134.1 L231.0 132.5 L231.5 131.0 L232.0 129.5 L232.5 128.1 L233.0 126.8 L233.5 125.5 L234.0 124.3 L234.5 123.0 L235.0 121.8 L235.5 120.6 L236.0 119.4 L236.5 118.2 L237.0 117.1 L237.5 116.1 L238.0 115.1 L238.5 114.2 L239.0 113.4 L239.5 112.7 L240.0 112.1 L240.5 111.6 L241.0 111.2 L241.5 110.7 L242.0 110.3 L242.5 109.9 L243.0 109.5 L243.5 109.1 L244.0 108.8 L244.5 108.6 L245.0 108.4 L245.5 108.3 L246.0 108.2 L246.5 108.2 L247.0 108.3 L247.5 108.5 L248.0 108.7 L248.5 109.0 L249.0 109.3 L249.5 109.7 L250.0 110.1 L250.5 110.6 L251.0 111.0 L251.5 111.6 L252.0 112.1 L252.5 112.7 L253.0 113.4 L253.5 114.4 L254.0 115.5 L254.5 116.8 L255.0 118.1 L255.5 119.5 L256.0 120.9 L256.5 122.3 L257.0 123.8 L257.5 125.1 L258.0 126.6 L258.5 128.1 L259.0 129.7 L259.5 131.3 L260.0 132.9 L260.5 134.6 L261.0 136.2 L261.5 137.8 L262.0 139.4 L262.5 140.9 L263.0 142.4 L263.5 143.8 L264.0 145.2 L264.5 146.7 L265.0 148.1 L265.5 149.6 L266.0 151.1 L266.5 152.7 L267.0 154.4 L267.5 156.1 L268.0 157.9 L268.5 159.7 L269.0 161.5 L269.5 163.3 L270.0 165.2 L270.5 167.1 L271.0 168.9 L271.5 170.8 L272.0 172.7 L272.5 174.6 L273.0 176.4 L273.5 178.2 L274.0 180.0 L274.5 181.7 L275.0 183.5 L275.5 185.3 L276.0 187.1 L276.5 188.9 L277.0 190.7 L277.5 192.4 L278.0 194.1 L278.5 195.7 L279.0 197.2 L279.5 198.7 L280.0 200.0 L280.5 201.2 L281.0 202.4 L281.5 203.5 L282.0 204.7 L282.5 205.8 L283.0 206.9 L283.5 207.9 L284.0 208.9 L284.5 209.8 L285.0 210.7 L285.5 211.4 L286.0 212.1 L286.5 212.7 L287.0 213.1 L287.5 213.5 L288.0 213.9 L288.5 214.3 L289.0 214.6 L289.5 214.9 L290.0 215.2 L290.5 215.5 L291.0 215.7 L291.5 215.9 L292.0 216.1 L292.5 216.2 L293.0 216.2 L293.5 216.2 L294.0 216.1 L294.5 215.9 L295.0 215.6 L295.5 215.3 L296.0 214.9 L296.5 214.5 L297.0 214.0 L297.5 213.5 L298.0 213.0 L298.5 212.4 L299.0 211.8 L299.5 211.3 L300.0 210.7 L300.5 210.1 L301.0 209.4 L301.5 208.7 L302.0 207.8 L302.5 206.9 L303.0 205.9 L303.5 204.9 L304.0 203.8 L304.5 202.6 L305.0 201.5 L305.5 200.3 L306.0 199.1 L306.5 197.9 L307.0 196.7 L307.5 195.5 L308.0 194.3 L308.5 193.2 L309.0 192.1 L309.5 191.0 L310.0 189.9 L310.5 188.7 L311.0 187.5 L311.5 186.2 L312.0 185.0 L312.5 183.7 L313.0 182.5 L313.5 181.3 L314.0 180.2 L314.5 179.1 L315.0 178.0 L315.5 177.1 L316.0 176.2 L316.5 175.4 L317.0 174.7 L317.5 174.2 L318.0 173.6 L318.5 173.0 L319.0 172.5 L319.5 172.0 L320.0 171.5 L320.5 171.1 L321.0 170.7 L321.5 170.4 L322.0 170.2 L322.5 170.0 L323.0 170.0 L323.5 170.1 L324.0 170.2 L324.5 170.5 L325.0 170.8 L325.5 171.2 L326.0 171.7 L326.5 172.2 L327.0 172.8 L327.5 173.4 L328.0 174.1 L328.5 174.7 L329.0 175.4 L329.5 176.1 L330.0 176.9 L330.5 177.8 L331.0 178.9 L331.5 180.2 L332.0 181.5 L332.5 183.0 L333.0 184.5 L333.5 186.1 L334.0 187.7 L334.5 189.4 L335.0 191.1 L335.5 192.8 L336.0 194.5 L336.5 196.2 L337.0 197.9 L337.5 199.6 L338.0 201.4 L338.5 203.2 L339.0 205.0 L339.5 206.9 L340.0 208.8 L340.5 210.8 L341.0 212.8 L341.5 214.9 L342.0 216.9 L342.5 219.0 L343.0 221.2 L343.5 223.4 L344.0 225.7 L344.5 228.2 L345.0 230.7 L345.5 233.2 L346.0 235.7 L346.5 238.2 L347.0 240.7 L347.5 243.2 L348.0 245.6 L348.5 247.8 L349.0 250.0 L349.5 252.1 L350.0 254.2 L350.5 256.3 L351.0 258.3 L351.5 260.3 L352.0 262.3 L352.5 264.3 L353.0 266.2 L353.5 268.0 L354.0 269.8 L354.5 271.5 L355.0 273.1 L355.5 274.6 L356.0 276.0 L356.5 277.4 L357.0 278.7 L357.5 279.9 L358.0 281.1 L358.5 282.2 L359.0 283.4 L359.5 284.4 L360.0 285.4 L360.5 286.4 L361.0 287.4 L361.5 288.3 L362.0 289.1 L362.5 290.0 L363.0 290.8 L363.5 291.6 L364.0 292.4 L364.5 293.2 L365.0 294.0 L365.5 294.8 L366.0 295.5 L366.5 296.2 L367.0 296.9 L367.5 297.5 L368.0 298.1 L368.5 298.7 L369.0 299.2 L369.5 299.7 L370.0 300.1 L370.5 300.5 L371.0 300.9 L371.5 301.3 L372.0 301.7 L372.5 302.1 L373.0 302.5 L373.5 302.8 L374.0 303.2 L374.5 303.4 L375.0 303.7 L375.5 303.9 L376.0 304.1 L376.5 304.2 L377.0 304.2 L377.5 304.2 L378.0 304.1 L378.5 304.1 L379.0 303.9 L379.5 303.8 L380.0 303.6 L380.5 303.4 L381.0 303.2 L381.5 303.0 L382.0 302.7 L382.5 302.5 L383.0 302.2 L383.5 301.9 L384.0 301.6 L384.5 301.2 L385.0 300.9 L385.5 300.6 L386.0 300.3 L386.5 299.9 L387.0 299.5 L387.5 298.9 L388.0 298.4 L388.5 297.7 L389.0 297.1 L389.5 296.4 L390.0 295.7 L390.5 295.0 L391.0 294.4 L391.5 293.7 L392.0 293.2 L392.5 292.7 L393.0 292.2 L393.5 291.9 L394.0 291.5 L394.5 291.2 L395.0 290.9 L395.5 290.5 L396.0 290.2 L396.5 289.9 L397.0 289.6 L397.5 289.4 L398.0 289.2 L398.5 289.0 L399.0 288.8 L399.5 288.8 L400.0 288.7 L400.5 288.7 L401.0 288.8 L401.5 288.9 L402.0 289.1 L402.5 289.3 L403.0 289.6 L403.5 289.9 L404.0 290.3 L404.5 290.7 L405.0 291.1 L405.5 291.5 L406.0 292.0 L406.5 292.4 L407.0 292.9 L407.5 293.4 L408.0 294.0 L408.5 294.6 L409.0 295.4 L409.5 296.2 L410.0 297.1 L410.5 298.1 L411.0 299.1 L411.5 300.1 L412.0 301.2 L412.5 302.4 L413.0 303.6 L413.5 304.8 L414.0 306.0 L414.5 307.3 L415.0 308.8 L415.5 310.5 L416.0 312.2 L416.5 314.0 L417.0 315.9 L417.5 317.8 L418.0 319.6 L418.5 321.3 L419.0 323.0 L419.5 324.6 L420.0 326.2 L420.5 327.8 L421.0 329.3 L421.5 330.9 L422.0 332.4 L422.5 333.9 L423.0 335.4 L423.5 336.8 L424.0 338.3 L424.5 339.7 L425.0 341.0 L425.5 342.3 L426.0 343.7 L426.5 345.0 L427.0 346.3 L427.5 347.5 L428.0 348.8 L428.5 349.9 L429.0 351.0 L429.5 352.1 L430.0 353.0 L430.5 353.9 L431.0 354.8 L431.5 355.6 L432.0 356.4 L432.5 357.2 L433.0 357.9 L433.5 358.7 L434.0 359.4 L434.5 360.0 L435.0 360.7 L435.5 361.3 L436.0 361.9 L436.5 362.5 L437.0 363.0 L437.5 363.5 L438.0 364.0 L438.5 364.5 L439.0 364.9 L439.5 365.4 L440.0 365.8 L440.5 366.2 L441.0 366.6 L441.5 367.0 L442.0 367.4 L442.5 367.7 L443.0 368.1 L443.5 368.4 L444.0 368.7 L444.5 369.0 L445.0 369.2 L445.5 369.4 L446.0 369.6 L446.5 369.8 L447.0 370.0 L447.5 370.1 L448.0 370.3 L448.5 370.5 L449.0 370.6 L449.5 370.8 L450.0 370.9 L450.5 371.1 L451.0 371.2 L451.5 371.3 L452.0 371.5 L452.5 371.6 L453.0 371.7 L453.5 371.8 L454.0 371.9 L454.5 372.0 L455.0 372.1 L455.5 372.1 L456.0 372.2 L456.5 372.2 L457.0 372.3 L457.5 372.3 L458.0 372.3 L458.5 372.3 L459.0 372.3 L459.5 372.2 L460.0 372.1 L460.5 372.0 L461.0 371.8 L461.5 371.7 L462.0 371.5 L462.5 371.3 L463.0 371.0 L463.5 370.8 L464.0 370.6 L464.5 370.3 L465.0 370.0 L465.5 369.8 L466.0 369.5 L466.5 369.2 L467.0 369.0 L467.5 368.7 L468.0 368.4 L468.5 368.2 L469.0 367.9 L469.5 367.6 L470.0 367.3 L470.5 367.0 L471.0 366.7 L471.5 366.3 L472.0 366.0 L472.5 365.6 L473.0 365.3 L473.5 364.9 L474.0 364.6 L474.5 364.2 L475.0 363.9 L475.5 363.6 L476.0 363.4 L476.5 363.1 L477.0 362.8 L477.5 362.6 L478.0 362.3 L478.5 362.0 L479.0 361.8 L479.5 361.5 L480.0 361.2 L480.5 361.0 L481.0 360.8 L481.5 360.5 L482.0 360.3 L482.5 360.1 L483.0 360.0 L483.5 359.8 L484.0 359.7 L484.5 359.6 L485.0 359.6 L485.5 359.6 L486.0 359.6 L486.5 359.7 L487.0 359.8 L487.5 360.0 L488.0 360.1 L488.5 360.3 L489.0 360.6 L489.5 360.8 L490.0 361.1 L490.5 361.4 L491.0 361.7 L491.5 362.0 L492.0 362.3 L492.5 362.6 L493.0 363.0 L493.5 363.3 L494.0 363.7 L494.5 364.0 L495.0 364.3 L495.5 364.7 L496.0 365.1 L496.5 365.6 L497.0 366.1 L497.5 366.6 L498.0 367.2 L498.5 367.7 L499.0 368.3 L499.5 368.9 L500.0 369.5 L500.5 370.1 L501.0 370.7 L501.5 371.4 L502.0 372.1 L502.5 372.9 L503.0 373.6 L503.5 374.4 L504.0 375.1 L504.5 375.8 L505.0 376.5 L505.5 377.1 L506.0 377.8 L506.5 378.4 L507.0 379.1 L507.5 379.7 L508.0 380.4 L508.5 380.9 L509.0 381.5 L509.5 382.0 L510.0 382.5 L510.5 382.9 L511.0 383.4 L511.5 383.7 L512.0 384.1 L512.5 384.5 L513.0 384.8 L513.5 385.1 L514.0 385.4 L514.5 385.7 L515.0 386.0 L515.5 386.3 L516.0 386.6 L516.5 386.9 L517.0 387.2 L517.5 387.5 L518.0 387.7 L518.5 388.0 L519.0 388.2 L519.5 388.4 L520.0 388.6 L520.5 388.8 L521.0 389.0 L521.5 389.2 L522.0 389.3 L522.5 389.5 L523.0 389.6 L523.5 389.8 L524.0 389.9 L524.5 390.0 L525.0 390.2 L525.5 390.3 L526.0 390.4 L526.5 390.5 L527.0 390.6 L527.5 390.7 L528.0 390.7 L528.5 390.8 L529.0 390.9 L529.5 391.0 L530.0 391.0 L530.5 391.1 L531.0 391.2 L531.5 391.2" stroke="#000000" stroke-width="1.15"/>
<path d="M54.5 390.8 L55.0 390.8 L55.5 390.7 L56.0 390.7 L56.5 390.6 L57.0 390.6 L57.5 390.5 L58.0 390.5 L58.5 390.4 L59.0 390.3 L59.5 390.3 L60.0 390.2 L60.5 390.2 L61.0 390.1 L61.5 390.0 L62.0 390.0 L62.5 389.9 L63.0 389.8 L63.5 389.8 L64.0 389.7 L64.5 389.6 L65.0 389.5 L65.5 389.4 L66.0 389.4 L66.5 389.3 L67.0 389.2 L67.5 389.1 L68.0 389.0 L68.5 388.9 L69.0 388.8 L69.5 388.7 L70.0 388.6 L70.5 388.5 L71.0 388.4 L71.5 388.3 L72.0 388.2 L72.5 388.1 L73.0 387.9 L73.5 387.8 L74.0 387.7 L74.5 387.6 L75.0 387.4 L75.5 387.3 L76.0 387.1 L76.5 387.0 L77.0 386.8 L77.5 386.7 L78.0 386.5 L78.5 386.4 L79.0 386.2 L79.5 386.0 L80.0 385.8 L80.5 385.6 L81.0 385.4 L81.5 385.2 L82.0 385.0 L82.5 384.8 L83.0 384.5 L83.5 384.3 L84.0 384.0 L84.5 383.8 L85.0 383.5 L85.5 383.1 L86.0 382.8 L86.5 382.5 L87.0 382.1 L87.5 381.8 L88.0 381.4 L88.5 381.0 L89.0 380.6 L89.5 380.2 L90.0 379.8 L90.5 379.4 L91.0 379.0 L91.5 378.6 L92.0 378.1 L92.5 377.7 L93.0 377.2 L93.5 376.7 L94.0 376.2 L94.5 375.7 L95.0 375.2 L95.5 374.6 L96.0 374.1 L96.5 373.5 L97.0 372.9 L97.5 372.3 L98.0 371.7 L98.5 371.1 L99.0 370.4 L99.5 369.7 L100.0 369.0 L100.5 368.3 L101.0 367.5 L101.5 366.7 L102.0 366.0 L102.5 365.2 L103.0 364.4 L103.5 363.6 L104.0 362.8 L104.5 361.9 L105.0 361.1 L105.5 360.3 L106.0 359.5 L106.5 358.6 L107.0 357.8 L107.5 356.9 L108.0 356.0 L108.5 355.1 L109.0 354.2 L109.5 353.3 L110.0 352.4 L110.5 351.4 L111.0 350.5 L111.5 349.5 L112.0 348.6 L112.5 347.6 L113.0 346.6 L113.5 345.6 L114.0 344.5 L114.5 343.5 L115.0 342.4 L115.5 341.3 L116.0 340.2 L116.5 339.1 L117.0 338.0 L117.5 336.8 L118.0 335.6 L118.5 334.4 L119.0 333.2 L119.5 332.0 L120.0 330.8 L120.5 329.5 L121.0 328.2 L121.5 327.0 L122.0 325.7 L122.5 324.4 L123.0 323.0 L123.5 321.7 L124.0 320.3 L124.5 318.9 L125.0 317.4 L125.5 315.9 L126.0 314.3 L126.5 312.7 L127.0 311.0 L127.5 309.3 L128.0 307.6 L128.5 305.8 L129.0 304.0 L129.5 302.3 L130.0 300.5 L130.5 298.7 L131.0 297.0 L131.5 295.2 L132.0 293.4 L132.5 291.6 L133.0 289.7 L133.5 287.9 L134.0 286.0 L134.5 284.1 L135.0 282.2 L135.5 280.3 L136.0 278.4 L136.5 276.4 L137.0 274.4 L137.5 272.4 L138.0 270.4 L138.5 268.4 L139.0 266.4 L139.5 264.3 L140.0 262.3 L140.5 260.2 L141.0 258.1 L141.5 255.9 L142.0 253.8 L142.5 251.6 L143.0 249.5 L143.5 247.3 L144.0 245.1 L144.5 242.9 L145.0 240.7 L145.5 238.5 L146.0 236.2 L146.5 234.0 L147.0 231.8 L147.5 229.6 L148.0 227.5 L148.5 225.4 L149.0 223.4 L149.5 221.3 L150.0 219.3 L150.5 217.2 L151.0 215.2 L151.5 213.2 L152.0 211.2 L152.5 209.2 L153.0 207.2 L153.5 205.3 L154.0 203.3 L154.5 201.4 L155.0 199.4 L155.5 197.5 L156.0 195.5 L156.5 193.5 L157.0 191.4 L157.5 189.3 L158.0 187.2 L158.5 185.2 L159.0 183.2 L159.5 181.4 L160.0 179.6 L160.5 178.1 L161.0 176.5 L161.5 175.1 L162.0 173.6 L162.5 172.2 L163.0 170.9 L163.5 169.6 L164.0 168.4 L164.5 167.2 L165.0 166.1 L165.5 165.0 L166.0 164.1 L166.5 163.1 L167.0 162.2 L167.5 161.4 L168.0 160.5 L168.5 159.7 L169.0 158.9 L169.5 158.2 L170.0 157.5 L170.5 156.9 L171.0 156.3 L171.5 155.7 L172.0 155.3 L172.5 154.8 L173.0 154.4 L173.5 154.0 L174.0 153.6 L174.5 153.2 L175.0 152.9 L175.5 152.6 L176.0 152.3 L176.5 152.0 L177.0 151.8 L177.5 151.7 L178.0 151.6 L178.5 151.6 L179.0 151.7 L179.5 151.8 L180.0 152.0 L180.5 152.2 L181.0 152.5 L181.5 152.8 L182.0 153.1 L182.5 153.5 L183.0 153.9 L183.5 154.3 L184.0 154.7 L184.5 155.1 L185.0 155.5 L185.5 155.9 L186.0 156.4 L186.5 157.0 L187.0 157.6 L187.5 158.3 L188.0 159.0 L188.5 159.7 L189.0 160.4 L189.5 161.2 L190.0 161.9 L190.5 162.6 L191.0 163.4 L191.5 164.2 L192.0 165.1 L192.5 165.9 L193.0 166.8 L193.5 167.7 L194.0 168.6 L194.5 169.6 L195.0 170.5 L195.5 171.4 L196.0 172.3 L196.5 173.2 L197.0 174.2 L197.5 175.1 L198.0 176.1 L198.5 177.0 L199.0 178.0 L199.5 179.0 L200.0 179.9 L200.5 180.9 L201.0 181.8 L201.5 182.7 L202.0 183.6 L202.5 184.5 L203.0 185.4 L203.5 186.2 L204.0 187.1 L204.5 187.9 L205.0 188.8 L205.5 189.6 L206.0 190.4 L206.5 191.2 L207.0 191.9 L207.5 192.6 L208.0 193.3 L208.5 193.9 L209.0 194.5 L209.5 195.1 L210.0 195.6 L210.5 196.2 L211.0 196.8 L211.5 197.3 L212.0 197.8 L212.5 198.3 L213.0 198.8 L213.5 199.2 L214.0 199.5 L214.5 199.8 L215.0 199.9 L215.5 200.0 L216.0 200.0 L216.5 199.9 L217.0 199.7 L217.5 199.5 L218.0 199.2 L218.5 198.8 L219.0 198.4 L219.5 197.9 L220.0 197.4 L220.5 196.9 L221.0 196.3 L221.5 195.8 L222.0 195.2 L222.5 194.5 L223.0 193.8 L223.5 192.8 L224.0 191.7 L224.5 190.4 L225.0 189.0 L225.5 187.6 L226.0 186.0 L226.5 184.4 L227.0 182.8 L227.5 181.2 L228.0 179.5 L228.5 177.8 L229.0 175.9 L229.5 174.0 L230.0 171.9 L230.5 169.8 L231.0 167.6 L231.5 165.4 L232.0 163.1 L232.5 160.8 L233.0 158.4 L233.5 156.1 L234.0 153.7 L234.5 151.2 L235.0 148.7 L235.5 146.1 L236.0 143.4 L236.5 140.7 L237.0 138.0 L237.5 135.3 L238.0 132.5 L238.5 129.6 L239.0 126.8 L239.5 123.9 L240.0 121.0 L240.5 118.0 L241.0 115.1 L241.5 112.1 L242.0 109.0 L242.5 105.8 L243.0 102.7 L243.5 99.7 L244.0 97.0 L244.5 94.5 L245.0 92.2 L245.5 89.9 L246.0 87.6 L246.5 85.5 L247.0 83.5 L247.5 81.7 L248.0 80.2 L248.5 78.9 L249.0 77.9 L249.5 76.9 L250.0 76.0 L250.5 75.1 L251.0 74.3 L251.5 73.7 L252.0 73.1 L252.5 72.7 L253.0 72.5 L253.2 72.5 L253.7 72.8 L254.2 73.2 L254.7 73.7 L255.2 74.4 L255.7 75.1 L256.2 76.0 L256.7 76.9 L257.2 77.9 L257.7 78.9 L258.2 79.9 L258.7 81.2 L259.2 82.7 L259.7 84.4 L260.2 86.2 L260.7 88.2 L261.2 90.2 L261.7 92.3 L262.2 94.3 L262.7 96.6 L263.2 99.0 L263.7 101.5 L264.2 104.1 L264.7 106.8 L265.2 109.5 L265.7 112.3 L266.2 115.0 L266.7 117.8 L267.2 120.6 L267.7 123.6 L268.2 126.5 L268.7 129.5 L269.2 132.5 L269.7 135.4 L270.2 138.3 L270.7 141.1 L271.2 143.9 L271.7 146.7 L272.2 149.4 L272.7 152.1 L273.2 154.8 L273.7 157.5 L274.2 160.1 L274.7 162.8 L275.2 165.5 L275.7 168.2 L276.2 170.9 L276.7 173.5 L277.2 176.1 L277.7 178.6 L278.2 181.0 L278.7 183.4 L279.2 185.8 L279.7 188.2 L280.2 190.6 L280.7 193.0 L281.2 195.3 L281.7 197.5 L282.2 199.7 L282.7 201.7 L283.2 203.7 L283.7 205.6 L284.2 207.3 L284.7 208.9 L285.2 210.5 L285.7 212.0 L286.2 213.5 L286.7 214.9 L287.2 216.3 L287.7 217.6 L288.2 218.8 L288.7 220.0 L289.2 221.1 L289.7 222.2 L290.2 223.2 L290.7 224.2 L291.2 225.1 L291.7 226.1 L292.2 227.0 L292.7 227.9 L293.2 228.7 L293.7 229.5 L294.2 230.2 L294.7 230.9 L295.2 231.5 L295.7 232.1 L296.2 232.6 L296.7 233.1 L297.2 233.5 L297.7 234.0 L298.2 234.5 L298.7 234.9 L299.2 235.3 L299.7 235.7 L300.2 236.1 L300.7 236.4 L301.2 236.7 L301.7 237.0 L302.2 237.2 L302.7 237.3 L303.2 237.4 L303.7 237.4 L304.2 237.3 L304.7 237.1 L305.2 236.7 L305.7 236.3 L306.2 235.8 L306.7 235.1 L307.2 234.5 L307.7 233.7 L308.2 233.0 L308.7 232.2 L309.2 231.3 L309.7 230.5 L310.2 229.4 L310.7 228.2 L311.2 226.8 L311.7 225.2 L312.2 223.6 L312.7 221.8 L313.2 220.0 L313.7 218.1 L314.2 216.2 L314.7 214.2 L315.2 212.0 L315.7 209.6 L316.2 207.1 L316.7 204.5 L317.2 201.8 L317.7 199.0 L318.2 196.1 L318.7 193.1 L319.2 190.0 L319.7 186.8 L320.2 183.3 L320.7 179.8 L321.2 176.1 L321.7 172.1 L322.2 167.7 L322.7 163.1 L323.2 158.6 L323.7 154.3 L324.2 150.5 L324.7 147.0 L325.2 143.6 L325.7 140.5 L326.2 137.4 L326.7 134.3 L327.2 131.2 L327.7 128.2 L328.2 125.4 L328.7 123.0 L329.2 121.0 L329.7 119.3 L330.2 117.7 L330.7 116.3 L331.2 115.0 L331.7 114.0 L332.2 113.3 L332.7 113.9 L333.2 114.8 L333.7 115.9 L334.2 117.2 L334.7 118.7 L335.2 120.3 L335.7 122.2 L336.2 124.6 L336.7 127.3 L337.2 130.2 L337.7 133.2 L338.2 136.2 L338.7 139.1 L339.2 142.1 L339.7 145.5 L340.2 149.2 L340.7 153.6 L341.2 158.8 L341.7 164.6 L342.2 170.6 L342.7 176.5 L343.2 182.3 L343.7 188.0 L344.2 193.8 L344.7 199.5 L345.2 205.0 L345.7 210.3 L346.2 215.4 L346.7 220.4 L347.2 225.2 L347.7 229.8 L348.2 234.3 L348.7 238.7 L349.2 242.7 L349.7 246.5 L350.2 250.0 L350.7 253.4 L351.2 256.6 L351.7 259.4 L352.2 262.0 L352.7 264.4 L353.2 266.7 L353.7 268.9 L354.2 271.0 L354.7 272.9 L355.2 274.6 L355.7 276.2 L356.2 277.5 L356.7 278.8 L357.2 279.9 L357.7 281.0 L358.2 282.0 L358.7 283.0 L359.2 283.9 L359.7 284.8 L360.2 285.6 L360.7 286.4 L361.2 287.2 L361.7 288.0 L362.2 288.8 L362.7 289.5 L363.2 290.3 L363.7 291.1 L364.2 291.8 L364.7 292.6 L365.2 293.3 L365.7 294.0 L366.2 294.7 L366.7 295.4 L367.2 296.1 L367.7 296.8 L368.2 297.4 L368.7 298.1 L369.2 298.7 L369.7 299.3 L370.2 299.9 L370.7 300.5 L371.2 301.1 L371.7 301.7 L372.2 302.3 L372.7 302.9 L373.2 303.5 L373.7 304.0 L374.2 304.6 L374.7 305.1 L375.2 305.7 L375.7 306.2 L376.2 306.7 L376.7 307.3 L377.2 307.8 L377.7 308.3 L378.2 308.8 L378.7 309.2 L379.2 309.7 L379.7 310.1 L380.2 310.6 L380.7 311.0 L381.2 311.4 L381.7 311.8 L382.2 312.3 L382.7 312.6 L383.2 313.0 L383.7 313.4 L384.2 313.8 L384.7 314.2 L385.2 314.5 L385.7 314.9 L386.2 315.2 L386.7 315.6 L387.2 315.9 L387.7 316.3 L388.2 316.6 L388.7 316.9 L389.2 317.3 L389.7 317.6 L390.2 317.9 L390.7 318.2 L391.2 318.5 L391.7 318.8 L392.2 319.1 L392.4 319.2 L392.9 319.1 L393.4 318.9 L393.9 318.5 L394.4 317.9 L394.9 317.3 L395.4 316.5 L395.9 315.7 L396.4 314.8 L396.9 313.8 L397.4 312.7 L397.9 311.2 L398.4 309.2 L398.9 306.8 L399.4 304.3 L399.9 301.7 L400.4 299.2 L400.9 296.6 L401.4 293.8 L401.9 291.0 L402.4 288.1 L402.9 285.3 L403.4 282.3 L403.9 279.3 L404.4 276.3 L404.9 273.4 L405.4 270.5 L405.9 267.8 L406.4 265.1 L406.9 262.5 L407.4 260.0 L407.9 257.6 L408.4 255.3 L408.9 253.3 L409.4 251.3 L409.9 249.5 L410.4 247.7 L410.9 246.1 L411.4 244.5 L411.9 243.1 L412.1 242.6 L412.6 243.9 L413.1 245.5 L413.6 247.2 L414.1 249.0 L414.6 251.0 L415.1 253.1 L415.6 255.3 L416.1 257.6 L416.6 260.2 L417.1 263.1 L417.6 266.5 L418.1 270.9 L418.6 276.5 L419.1 282.6 L419.6 288.6 L420.1 294.0 L420.6 299.1 L421.1 304.1 L421.6 309.0 L422.1 313.6 L422.6 317.9 L423.1 321.7 L423.6 325.4 L424.1 328.9 L424.6 332.3 L425.1 335.5 L425.6 338.4 L426.1 341.1 L426.6 343.3 L427.1 345.2 L427.6 346.8 L428.1 348.2 L428.6 349.6 L429.1 350.8 L429.6 352.0 L430.1 353.0 L430.6 354.0 L431.1 355.0 L431.6 355.8 L432.1 356.7 L432.6 357.4 L433.1 358.2 L433.6 358.9 L434.1 359.6 L434.6 360.3 L435.1 361.0 L435.6 361.6 L436.1 362.2 L436.6 362.8 L437.1 363.4 L437.6 363.9 L438.1 364.4 L438.6 364.9 L439.1 365.3 L439.6 365.7 L440.1 366.1 L440.6 366.5 L441.1 366.8 L441.6 367.1 L442.1 367.4 L442.6 367.7 L443.1 368.0 L443.6 368.3 L444.1 368.5 L444.6 368.8 L445.1 369.0 L445.6 369.3 L446.1 369.5 L446.6 369.7 L447.1 369.9 L447.6 370.2 L448.1 370.4 L448.6 370.6 L449.1 370.8 L449.6 371.0 L450.1 371.3 L450.6 371.5 L451.1 371.7 L451.6 371.9 L452.1 372.1 L452.6 372.4 L453.1 372.6 L453.6 372.8 L454.1 373.0 L454.6 373.2 L455.1 373.4 L455.6 373.6 L456.1 373.8 L456.6 374.0 L457.1 374.2 L457.6 374.4 L458.1 374.6 L458.6 374.8 L459.1 375.0 L459.6 375.1 L460.1 375.3 L460.6 375.4 L461.1 375.6 L461.6 375.7 L462.1 375.9 L462.6 376.1 L463.1 376.2 L463.6 376.4 L464.1 376.6 L464.6 376.7 L465.1 376.9 L465.6 377.0 L466.1 377.2 L466.6 377.3 L467.1 377.4 L467.6 377.6 L468.1 377.7 L468.6 377.8 L469.1 377.9 L469.6 378.0 L470.1 378.0 L470.6 378.1 L471.1 378.2 L471.6 378.2 L472.1 378.2 L472.6 378.2 L473.1 378.1 L473.6 377.9 L474.1 377.7 L474.6 377.4 L475.1 377.0 L475.6 376.6 L476.1 376.2 L476.6 375.7 L477.1 375.2 L477.6 374.6 L478.1 373.7 L478.6 372.6 L479.1 371.2 L479.6 369.7 L480.1 368.1 L480.6 366.4 L481.1 364.7 L481.6 362.9 L482.1 360.9 L482.6 358.7 L483.1 356.4 L483.6 354.0 L484.1 351.6 L484.6 349.3 L485.1 347.3 L485.6 345.4 L486.1 343.5 L486.6 341.5 L487.1 339.7 L487.6 337.9 L488.1 336.3 L488.6 335.0 L489.1 334.0 L489.6 333.2 L490.1 332.6 L490.6 332.0 L491.1 331.5 L491.6 331.1 L492.1 330.7 L492.6 330.6 L493.0 330.5 L493.5 332.5 L494.0 334.6 L494.5 336.9 L495.0 339.2 L495.5 341.6 L496.0 344.1 L496.5 346.7 L497.0 349.6 L497.5 352.8 L498.0 356.0 L498.5 359.3 L499.0 362.3 L499.5 365.0 L500.0 367.4 L500.5 369.6 L501.0 371.7 L501.5 373.6 L502.0 375.3 L502.5 376.9 L503.0 378.4 L503.5 379.9 L504.0 381.2 L504.5 382.3 L505.0 383.2 L505.5 383.8 L506.0 384.4 L506.5 384.9 L507.0 385.4 L507.5 385.8 L508.0 386.1 L508.5 386.5 L509.0 386.7 L509.5 387.0 L510.0 387.2 L510.5 387.4 L511.0 387.7 L511.5 387.8 L512.0 388.0 L512.5 388.2 L513.0 388.3 L513.5 388.5 L514.0 388.6 L514.5 388.7 L515.0 388.9 L515.5 389.0 L516.0 389.1 L516.5 389.2 L517.0 389.4 L517.5 389.5 L518.0 389.6 L518.5 389.7 L519.0 389.8 L519.5 389.9 L520.0 390.0 L520.5 390.0 L521.0 390.1 L521.5 390.2 L522.0 390.3 L522.5 390.3 L523.0 390.4 L523.5 390.5 L524.0 390.5 L524.5 390.6 L525.0 390.7 L525.5 390.7 L526.0 390.8 L526.5 390.8 L527.0 390.9 L527.5 390.9 L528.0 391.0 L528.5 391.0 L529.0 391.1 L529.5 391.1 L530.0 391.1 L530.5 391.2 L531.0 391.2 L531.5 391.2" stroke="#000000" stroke-width="1.15" stroke-dasharray="8.7 5.8" stroke-dashoffset="8.3"/></g>
<rect x="54.8" y="17.0" width="476.90000000000003" height="375.0" fill="none" stroke="#262626" stroke-width="1.2"/>
<text x="54.30" y="413.3" text-anchor="middle" class="t">0</text>
<path d="M102.49 392.0v-5.3M102.49 17.0v5.3" stroke="#262626" stroke-width="1"/>
<text x="101.99" y="413.3" text-anchor="middle" class="t">0.1</text>
<path d="M150.18 392.0v-5.3M150.18 17.0v5.3" stroke="#262626" stroke-width="1"/>
<text x="149.68" y="413.3" text-anchor="middle" class="t">0.2</text>
<path d="M197.87 392.0v-5.3M197.87 17.0v5.3" stroke="#262626" stroke-width="1"/>
<text x="197.37" y="413.3" text-anchor="middle" class="t">0.3</text>
<path d="M245.56 392.0v-5.3M245.56 17.0v5.3" stroke="#262626" stroke-width="1"/>
<text x="245.06" y="413.3" text-anchor="middle" class="t">0.4</text>
<path d="M293.25 392.0v-5.3M293.25 17.0v5.3" stroke="#262626" stroke-width="1"/>
<text x="292.75" y="413.3" text-anchor="middle" class="t">0.5</text>
<path d="M340.94 392.0v-5.3M340.94 17.0v5.3" stroke="#262626" stroke-width="1"/>
<text x="340.44" y="413.3" text-anchor="middle" class="t">0.6</text>
<path d="M388.63 392.0v-5.3M388.63 17.0v5.3" stroke="#262626" stroke-width="1"/>
<text x="388.13" y="413.3" text-anchor="middle" class="t">0.7</text>
<path d="M436.32 392.0v-5.3M436.32 17.0v5.3" stroke="#262626" stroke-width="1"/>
<text x="435.82" y="413.3" text-anchor="middle" class="t">0.8</text>
<path d="M484.01 392.0v-5.3M484.01 17.0v5.3" stroke="#262626" stroke-width="1"/>
<text x="483.51" y="413.3" text-anchor="middle" class="t">0.9</text>
<text x="531.20" y="413.3" text-anchor="middle" class="t">1</text>
<text x="48" y="397.90" text-anchor="end" class="t">0</text>
<path d="M54.8 329.50h5.3M531.7 329.50h-5.3" stroke="#262626" stroke-width="1"/>
<text x="48" y="335.40" text-anchor="end" class="t">0.5</text>
<path d="M54.8 267.00h5.3M531.7 267.00h-5.3" stroke="#262626" stroke-width="1"/>
<text x="48" y="272.90" text-anchor="end" class="t">1</text>
<path d="M54.8 204.50h5.3M531.7 204.50h-5.3" stroke="#262626" stroke-width="1"/>
<text x="48" y="210.40" text-anchor="end" class="t">1.5</text>
<path d="M54.8 142.00h5.3M531.7 142.00h-5.3" stroke="#262626" stroke-width="1"/>
<text x="48" y="147.90" text-anchor="end" class="t">2</text>
<path d="M54.8 79.50h5.3M531.7 79.50h-5.3" stroke="#262626" stroke-width="1"/>
<text x="48" y="85.40" text-anchor="end" class="t">2.5</text>
<text x="48" y="22.90" text-anchor="end" class="t">3</text>
<text x="292.7" y="434.9" text-anchor="middle" font-size="15.6" class="t">x</text>
<text transform="translate(18.6,205.3) rotate(-90)" text-anchor="middle" font-size="15.6" class="t">f</text>
<rect x="398.5" y="28.5" width="121.5" height="112.0" fill="#fff" stroke="#262626" stroke-width="1"/>
<path d="M403.5 40.30H446.5" stroke="#0000ff" stroke-width="1.1" stroke-dasharray="8.5 5.6" fill="none"/>
<text x="451.1" y="44.90" font-size="12.9" class="lg">True</text>
<path d="M403.5 58.30H446.5" stroke="#00ff00" stroke-width="1.1" fill="none"/>
<text x="451.1" y="62.90" font-size="12.9" class="lg">AQIDE</text>
<path d="M403.5 76.30H446.5" stroke="#ff0000" stroke-width="1.1" fill="none"/>
<text x="451.1" y="80.90" font-size="12.9" class="lg">QIDE</text>
<path d="M403.5 94.30H446.5" stroke="#00ffff" stroke-width="1.1" fill="none"/>
<text x="451.1" y="98.90" font-size="12.9" class="lg">KDE</text>
<path d="M403.5 112.30H446.5" stroke="#000000" stroke-width="1.1" fill="none"/>
<text x="451.1" y="116.90" font-size="12.9" class="lg">BKDE</text>
<path d="M403.5 130.30H446.5" stroke="#000000" stroke-width="1.1" stroke-dasharray="8.5 5.6" fill="none"/>
<text x="451.1" y="134.90" font-size="12.9" class="lg">KDE(<tspan x="488.2" text-anchor="middle" font-size="16.5" style="stroke:none" dy="1.2">×</tspan><tspan x="493.16" dy="-1.2"> 50)</tspan></text>
</svg>
</body></html>
